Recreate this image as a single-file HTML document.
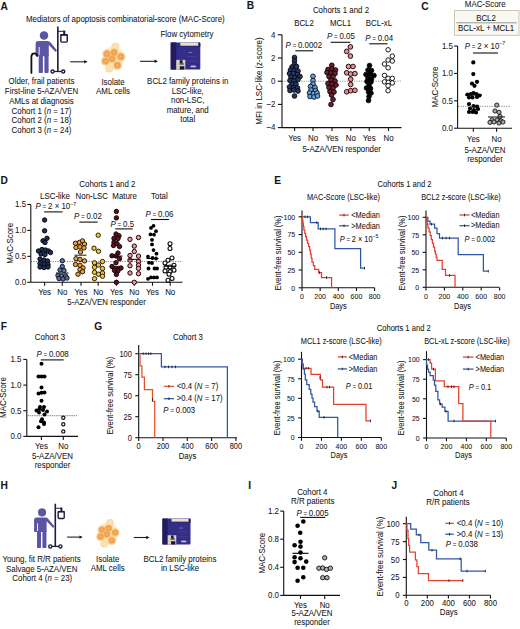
<!DOCTYPE html>
<html><head><meta charset="utf-8"><style>
html,body{margin:0;padding:0;background:#fff;}
svg{display:block;}
text{font-family:"Liberation Sans",sans-serif;fill:#151515;stroke:#151515;stroke-width:0.05px;}
</style></head><body>
<svg width="520" height="629" viewBox="0 0 520 629">
<defs><filter id="bl" x="-20%" y="-20%" width="140%" height="140%"><feGaussianBlur stdDeviation="0.55"/></filter><filter id="bl2" x="-10%" y="-10%" width="120%" height="120%"><feGaussianBlur stdDeviation="0.35"/></filter></defs>
<rect width="520" height="629" fill="#fff"/>
<text transform="translate(0.50 9.50)" font-size="10.2" font-weight="bold" fill="#000">A</text>
<text transform="translate(26.00 21.70) scale(1 1.1)" font-size="7.9">Mediators of apoptosis combinatorial-score (MAC-Score)</text>
<g transform="translate(44.00,35.60) scale(1.0)">
<circle cx="0" cy="0" r="4.25" fill="#5b55a3"/>
<path d="M-8.4,19.8 L-8.4,8.2 Q-8.4,5.4 -5.6,5.4 L3.6,5.4 Q5.6,5.4 6.6,6.9 L12.7,14.3 Q13.1,15.6 11.9,16.1 L11.1,16.0 L4.8,9.4 L4.8,20.6 L-4.4,20.6 L-4.4,11.5 L-5.3,11.5 L-5.3,19.8 Q-5.3,20.5 -6.0,20.5 L-7.7,20.5 Q-8.4,20.5 -8.4,19.8 Z" fill="#5b55a3"/>
<path d="M-5.3,19.5 L-1.1,19.5 L-1.1,36.6 Q-1.1,37.4 -1.9,37.4 L-4.5,37.4 Q-5.3,37.4 -5.3,36.6 Z" fill="#5b55a3"/>
<path d="M0.4,19.5 L4.6,19.5 L4.6,36.6 Q4.6,37.4 3.8,37.4 L1.2,37.4 Q0.4,37.4 0.4,36.6 Z" fill="#5b55a3"/>
<path d="M-12.6,37.3 L-12.6,21.2 Q-12.6,17.7 -9.6,17.7 Q-7.2,17.7 -6.9,20.4" fill="none" stroke="#111" stroke-width="1.8" stroke-linecap="round"/>
</g>
<line x1="57.85" y1="26.50" x2="57.85" y2="71.50" stroke="#1d1b3d" stroke-width="1.6"/>
<g transform="translate(57.85,26.50) scale(1.0)">
<path d="M0,4.8 H6.4" fill="none" stroke="#1d1b3d" stroke-width="1.0"/>
<rect x="5.35" y="4.1" width="2.1" height="3.6" fill="#1d1b3d"/>
<rect x="3.0" y="8.3" width="6.4" height="7.3" rx="1.0" fill="#fff" stroke="#1d1b3d" stroke-width="1.45"/>
<rect x="2.6" y="7.6" width="7.2" height="1.6" fill="#1d1b3d"/>
</g>
<line x1="52.55" y1="71.50" x2="63.25" y2="71.50" stroke="#1d1b3d" stroke-width="1.3"/>
<circle cx="52.55" cy="71.50" r="1.55" fill="#fff" stroke="#1d1b3d" stroke-width="1.35"/>
<circle cx="63.25" cy="71.50" r="1.55" fill="#fff" stroke="#1d1b3d" stroke-width="1.35"/>
<line x1="70.20" y1="61.80" x2="85.00" y2="61.80" stroke="#222" stroke-width="1.1"/>
<path d="M87.50,61.80 L84.30,60.10 L84.30,63.50 Z" fill="#111"/>
<g transform="translate(113.00,58.00) scale(1.0)" filter="url(#bl)">
<ellipse cx="0.5" cy="0" rx="10.5" ry="12" fill="#fdeccb"/>
<circle cx="2.4" cy="-11.4" r="3.7" fill="#fce2b0" stroke="#f9d69c" stroke-width="0.8"/>
<circle cx="-3.7" cy="10.5" r="3.7" fill="#fce2b0" stroke="#f9d69c" stroke-width="0.8"/>
<circle cx="-6.0" cy="-4.1" r="4.7" fill="#fad49a"/>
<circle cx="1.0" cy="-5.6" r="4.7" fill="#fad49a"/>
<circle cx="7.8" cy="-1.2" r="4.7" fill="#fad49a"/>
<circle cx="-0.9" cy="0.7" r="4.7" fill="#fad49a"/>
<circle cx="-7.4" cy="3.1" r="4.7" fill="#fad49a"/>
<circle cx="4.4" cy="7.2" r="4.7" fill="#fad49a"/>
<circle cx="-6.0" cy="-4.1" r="3.5" fill="#f4ad5c"/>
<circle cx="-6.0" cy="-4.1" r="2.1" fill="#f3b266" stroke="#ea9540" stroke-width="0.8"/>
<circle cx="1.0" cy="-5.6" r="3.5" fill="#f4ad5c"/>
<circle cx="1.0" cy="-5.6" r="2.1" fill="#f3b266" stroke="#ea9540" stroke-width="0.8"/>
<circle cx="7.8" cy="-1.2" r="3.5" fill="#f4ad5c"/>
<circle cx="7.8" cy="-1.2" r="2.1" fill="#f3b266" stroke="#ea9540" stroke-width="0.8"/>
<circle cx="-0.9" cy="0.7" r="3.5" fill="#f4ad5c"/>
<circle cx="-0.9" cy="0.7" r="2.1" fill="#f3b266" stroke="#ea9540" stroke-width="0.8"/>
<circle cx="-7.4" cy="3.1" r="3.5" fill="#f4ad5c"/>
<circle cx="-7.4" cy="3.1" r="2.1" fill="#f3b266" stroke="#ea9540" stroke-width="0.8"/>
<circle cx="4.4" cy="7.2" r="3.5" fill="#f4ad5c"/>
<circle cx="4.4" cy="7.2" r="2.1" fill="#f3b266" stroke="#ea9540" stroke-width="0.8"/>
</g>
<line x1="140.00" y1="61.30" x2="155.30" y2="61.30" stroke="#222" stroke-width="1.1"/>
<path d="M157.80,61.30 L154.60,59.60 L154.60,63.00 Z" fill="#111"/>
<text transform="translate(187.00 37.00) scale(1 1.1)" font-size="7.9" text-anchor="middle">Flow cytometry</text>
<g transform="translate(170.70,42.40) scale(0.9867,0.9714)" filter="url(#bl2)">
<rect x="0" y="0" width="30" height="28" rx="1.2" fill="#342d88"/>
<rect x="0" y="0" width="5.6" height="28" fill="#211b5c"/>
<rect x="9.8" y="0.3" width="18.4" height="3.2" fill="#e6e2c2"/>
<path d="M28.2,0 H29 Q30,0 30,1.5 V4 H28.2 Z" fill="#1e1a50"/>
<rect x="5.6" y="3.6" width="24.4" height="0.8" fill="#2c2670"/>
<rect x="5.6" y="18" width="9.2" height="10" fill="#d6d2bf"/>
<rect x="9.2" y="18.3" width="2.8" height="3.6" fill="#1c1838"/>
<rect x="8.8" y="21.4" width="4.5" height="1.6" fill="#5a5670"/>
<rect x="9.2" y="24.5" width="4.6" height="3.5" fill="#1c1838"/>
<ellipse cx="22.8" cy="24.7" rx="3.1" ry="1.0" fill="#c9c6dc"/>
<rect x="18" y="9.8" width="4" height="1" fill="#8f8ac8" opacity="0.8"/>
<rect x="16" y="14" width="10" height="0.6" fill="#5a54aa" opacity="0.7"/>
<rect x="16" y="19" width="10" height="0.6" fill="#5a54aa" opacity="0.7"/>
</g>
<text transform="translate(41.50 84.40) scale(1 1.1)" font-size="7.9" text-anchor="middle">Older, frail patients</text>
<text transform="translate(41.50 94.10) scale(1 1.1)" font-size="7.9" text-anchor="middle">First-line 5-AZA/VEN</text>
<text transform="translate(41.50 103.80) scale(1 1.1)" font-size="7.9" text-anchor="middle">AMLs at diagnosis</text>
<text transform="translate(41.50 113.50) scale(1 1.1)" font-size="7.9" text-anchor="middle">Cohort 1 (<tspan font-style="italic">n</tspan> = 17)</text>
<text transform="translate(41.50 123.20) scale(1 1.1)" font-size="7.9" text-anchor="middle">Cohort 2 (<tspan font-style="italic">n</tspan> = 18)</text>
<text transform="translate(41.50 132.90) scale(1 1.1)" font-size="7.9" text-anchor="middle">Cohort 3 (<tspan font-style="italic">n</tspan> = 24)</text>
<text transform="translate(113.00 84.50) scale(1 1.1)" font-size="7.9" text-anchor="middle">Isolate</text>
<text transform="translate(113.00 93.80) scale(1 1.1)" font-size="7.9" text-anchor="middle">AML cells</text>
<text transform="translate(187.70 84.20) scale(1 1.1)" font-size="7.9" text-anchor="middle">BCL2 family proteins in</text>
<text transform="translate(187.70 93.70) scale(1 1.1)" font-size="7.9" text-anchor="middle">LSC-like,</text>
<text transform="translate(187.70 103.20) scale(1 1.1)" font-size="7.9" text-anchor="middle">non-LSC,</text>
<text transform="translate(187.70 112.70) scale(1 1.1)" font-size="7.9" text-anchor="middle">mature, and</text>
<text transform="translate(187.70 122.20) scale(1 1.1)" font-size="7.9" text-anchor="middle">total</text>
<text transform="translate(246.80 9.40)" font-size="10.2" font-weight="bold" fill="#000">B</text>
<text transform="translate(341.00 12.50) scale(1 1.1)" font-size="7.9" text-anchor="middle">Cohorts 1 and 2</text>
<text transform="translate(304.00 26.00) scale(1 1.1)" font-size="7.9" text-anchor="middle">BCL2</text>
<text transform="translate(340.50 26.00) scale(1 1.1)" font-size="7.9" text-anchor="middle">MCL1</text>
<text transform="translate(379.00 26.00) scale(1 1.1)" font-size="7.9" text-anchor="middle">BCL-xL</text>
<line x1="282.00" y1="81.20" x2="401.00" y2="81.20" stroke="#888" stroke-width="0.9" stroke-dasharray="1.2,1.2"/>
<line x1="282.00" y1="34.80" x2="282.00" y2="127.60" stroke="#111" stroke-width="1.1"/>
<line x1="277.80" y1="34.80" x2="282.00" y2="34.80" stroke="#111" stroke-width="1.1"/>
<text transform="translate(275.30 37.64) scale(1 1.1)" font-size="7.9" text-anchor="end">4</text>
<line x1="277.80" y1="58.00" x2="282.00" y2="58.00" stroke="#111" stroke-width="1.1"/>
<text transform="translate(275.30 60.84) scale(1 1.1)" font-size="7.9" text-anchor="end">2</text>
<line x1="277.80" y1="81.20" x2="282.00" y2="81.20" stroke="#111" stroke-width="1.1"/>
<text transform="translate(275.30 84.04) scale(1 1.1)" font-size="7.9" text-anchor="end">0</text>
<line x1="277.80" y1="104.40" x2="282.00" y2="104.40" stroke="#111" stroke-width="1.1"/>
<text transform="translate(275.30 107.24) scale(1 1.1)" font-size="7.9" text-anchor="end">&#8722;2</text>
<line x1="277.80" y1="127.60" x2="282.00" y2="127.60" stroke="#111" stroke-width="1.1"/>
<text transform="translate(275.30 130.44) scale(1 1.1)" font-size="7.9" text-anchor="end">&#8722;4</text>
<line x1="282.00" y1="127.60" x2="401.50" y2="127.60" stroke="#111" stroke-width="1.1"/>
<line x1="294.60" y1="127.60" x2="294.60" y2="131.10" stroke="#111" stroke-width="1.1"/>
<text transform="translate(294.60 140.80) scale(1 1.1)" font-size="7.9" text-anchor="middle">Yes</text>
<line x1="313.00" y1="127.60" x2="313.00" y2="131.10" stroke="#111" stroke-width="1.1"/>
<text transform="translate(313.00 140.80) scale(1 1.1)" font-size="7.9" text-anchor="middle">No</text>
<line x1="332.00" y1="127.60" x2="332.00" y2="131.10" stroke="#111" stroke-width="1.1"/>
<text transform="translate(332.00 140.80) scale(1 1.1)" font-size="7.9" text-anchor="middle">Yes</text>
<line x1="350.80" y1="127.60" x2="350.80" y2="131.10" stroke="#111" stroke-width="1.1"/>
<text transform="translate(350.80 140.80) scale(1 1.1)" font-size="7.9" text-anchor="middle">No</text>
<line x1="369.20" y1="127.60" x2="369.20" y2="131.10" stroke="#111" stroke-width="1.1"/>
<text transform="translate(369.20 140.80) scale(1 1.1)" font-size="7.9" text-anchor="middle">Yes</text>
<line x1="388.50" y1="127.60" x2="388.50" y2="131.10" stroke="#111" stroke-width="1.1"/>
<text transform="translate(388.50 140.80) scale(1 1.1)" font-size="7.9" text-anchor="middle">No</text>
<text transform="translate(341.70 151.60) scale(1 1.1)" font-size="7.9" text-anchor="middle">5-AZA/VEN responder</text>
<text transform="translate(262.20 81.00) rotate(-90) scale(1 1.1)" font-size="7.9" text-anchor="middle">MFI in LSC-like (z-score)</text>
<text transform="translate(285.50 48.00) scale(1 1.1)" font-size="7.9"><tspan font-style="italic">P</tspan><tspan font-size="6.3"> = </tspan>0.0002</text>
<line x1="295.30" y1="50.80" x2="313.10" y2="50.80" stroke="#111" stroke-width="1.1"/>
<text transform="translate(327.00 39.40) scale(1 1.1)" font-size="7.9"><tspan font-style="italic">P</tspan><tspan font-size="6.3"> = </tspan>0.05</text>
<line x1="330.70" y1="42.30" x2="350.30" y2="42.30" stroke="#111" stroke-width="1.1"/>
<text transform="translate(365.30 41.30) scale(1 1.1)" font-size="7.9"><tspan font-style="italic">P</tspan><tspan font-size="6.3"> = </tspan>0.04</text>
<line x1="369.30" y1="43.80" x2="387.50" y2="43.80" stroke="#111" stroke-width="1.1"/>
<circle cx="294.50" cy="57.50" r="2.35" fill="#28375f" stroke="#05070f" stroke-width="0.9"/>
<circle cx="294.50" cy="61.00" r="2.35" fill="#28375f" stroke="#05070f" stroke-width="0.9"/>
<circle cx="294.50" cy="64.50" r="2.35" fill="#28375f" stroke="#05070f" stroke-width="0.9"/>
<circle cx="292.00" cy="67.00" r="2.35" fill="#28375f" stroke="#05070f" stroke-width="0.9"/>
<circle cx="296.50" cy="66.50" r="2.35" fill="#28375f" stroke="#05070f" stroke-width="0.9"/>
<circle cx="290.50" cy="70.00" r="2.35" fill="#28375f" stroke="#05070f" stroke-width="0.9"/>
<circle cx="294.00" cy="70.50" r="2.35" fill="#28375f" stroke="#05070f" stroke-width="0.9"/>
<circle cx="298.00" cy="71.00" r="2.35" fill="#28375f" stroke="#05070f" stroke-width="0.9"/>
<circle cx="289.50" cy="73.50" r="2.35" fill="#28375f" stroke="#05070f" stroke-width="0.9"/>
<circle cx="293.50" cy="73.50" r="2.35" fill="#28375f" stroke="#05070f" stroke-width="0.9"/>
<circle cx="297.50" cy="74.50" r="2.35" fill="#28375f" stroke="#05070f" stroke-width="0.9"/>
<circle cx="300.00" cy="76.50" r="2.35" fill="#28375f" stroke="#05070f" stroke-width="0.9"/>
<circle cx="291.00" cy="77.00" r="2.35" fill="#28375f" stroke="#05070f" stroke-width="0.9"/>
<circle cx="295.00" cy="77.50" r="2.35" fill="#28375f" stroke="#05070f" stroke-width="0.9"/>
<circle cx="298.00" cy="79.50" r="2.35" fill="#28375f" stroke="#05070f" stroke-width="0.9"/>
<circle cx="290.00" cy="80.50" r="2.35" fill="#28375f" stroke="#05070f" stroke-width="0.9"/>
<circle cx="294.00" cy="81.00" r="2.35" fill="#28375f" stroke="#05070f" stroke-width="0.9"/>
<circle cx="292.00" cy="84.00" r="2.35" fill="#28375f" stroke="#05070f" stroke-width="0.9"/>
<circle cx="296.00" cy="84.00" r="2.35" fill="#28375f" stroke="#05070f" stroke-width="0.9"/>
<circle cx="289.50" cy="87.00" r="2.35" fill="#28375f" stroke="#05070f" stroke-width="0.9"/>
<circle cx="293.50" cy="87.50" r="2.35" fill="#28375f" stroke="#05070f" stroke-width="0.9"/>
<circle cx="297.50" cy="88.00" r="2.35" fill="#28375f" stroke="#05070f" stroke-width="0.9"/>
<circle cx="290.00" cy="90.50" r="2.35" fill="#28375f" stroke="#05070f" stroke-width="0.9"/>
<circle cx="294.00" cy="90.00" r="2.35" fill="#28375f" stroke="#05070f" stroke-width="0.9"/>
<circle cx="298.00" cy="91.00" r="2.35" fill="#28375f" stroke="#05070f" stroke-width="0.9"/>
<circle cx="294.50" cy="96.00" r="2.35" fill="#28375f" stroke="#05070f" stroke-width="0.9"/>
<circle cx="313.00" cy="76.30" r="2.35" fill="#6a9ed2" stroke="#0c1a30" stroke-width="0.95"/>
<circle cx="313.00" cy="80.50" r="2.35" fill="#6a9ed2" stroke="#0c1a30" stroke-width="0.95"/>
<circle cx="313.00" cy="84.00" r="2.35" fill="#6a9ed2" stroke="#0c1a30" stroke-width="0.95"/>
<circle cx="310.50" cy="86.50" r="2.35" fill="#6a9ed2" stroke="#0c1a30" stroke-width="0.95"/>
<circle cx="315.00" cy="87.50" r="2.35" fill="#6a9ed2" stroke="#0c1a30" stroke-width="0.95"/>
<circle cx="311.00" cy="90.00" r="2.35" fill="#6a9ed2" stroke="#0c1a30" stroke-width="0.95"/>
<circle cx="315.50" cy="90.50" r="2.35" fill="#6a9ed2" stroke="#0c1a30" stroke-width="0.95"/>
<circle cx="309.50" cy="93.00" r="2.35" fill="#6a9ed2" stroke="#0c1a30" stroke-width="0.95"/>
<circle cx="313.50" cy="93.50" r="2.35" fill="#6a9ed2" stroke="#0c1a30" stroke-width="0.95"/>
<circle cx="317.00" cy="93.00" r="2.35" fill="#6a9ed2" stroke="#0c1a30" stroke-width="0.95"/>
<circle cx="310.00" cy="96.50" r="2.35" fill="#6a9ed2" stroke="#0c1a30" stroke-width="0.95"/>
<circle cx="314.00" cy="97.00" r="2.35" fill="#6a9ed2" stroke="#0c1a30" stroke-width="0.95"/>
<circle cx="317.50" cy="96.00" r="2.35" fill="#6a9ed2" stroke="#0c1a30" stroke-width="0.95"/>
<circle cx="331.80" cy="65.30" r="2.35" fill="#6c1e2c" stroke="#120306" stroke-width="0.95"/>
<circle cx="328.00" cy="69.50" r="2.35" fill="#6c1e2c" stroke="#120306" stroke-width="0.95"/>
<circle cx="332.00" cy="69.00" r="2.35" fill="#6c1e2c" stroke="#120306" stroke-width="0.95"/>
<circle cx="335.50" cy="70.00" r="2.35" fill="#6c1e2c" stroke="#120306" stroke-width="0.95"/>
<circle cx="327.00" cy="72.50" r="2.35" fill="#6c1e2c" stroke="#120306" stroke-width="0.95"/>
<circle cx="331.00" cy="73.00" r="2.35" fill="#6c1e2c" stroke="#120306" stroke-width="0.95"/>
<circle cx="335.00" cy="73.50" r="2.35" fill="#6c1e2c" stroke="#120306" stroke-width="0.95"/>
<circle cx="329.00" cy="76.50" r="2.35" fill="#6c1e2c" stroke="#120306" stroke-width="0.95"/>
<circle cx="333.00" cy="76.50" r="2.35" fill="#6c1e2c" stroke="#120306" stroke-width="0.95"/>
<circle cx="331.00" cy="80.00" r="2.35" fill="#6c1e2c" stroke="#120306" stroke-width="0.95"/>
<circle cx="335.00" cy="81.00" r="2.35" fill="#6c1e2c" stroke="#120306" stroke-width="0.95"/>
<circle cx="328.00" cy="83.50" r="2.35" fill="#6c1e2c" stroke="#120306" stroke-width="0.95"/>
<circle cx="332.00" cy="84.00" r="2.35" fill="#6c1e2c" stroke="#120306" stroke-width="0.95"/>
<circle cx="336.00" cy="85.00" r="2.35" fill="#6c1e2c" stroke="#120306" stroke-width="0.95"/>
<circle cx="329.00" cy="87.50" r="2.35" fill="#6c1e2c" stroke="#120306" stroke-width="0.95"/>
<circle cx="333.00" cy="88.00" r="2.35" fill="#6c1e2c" stroke="#120306" stroke-width="0.95"/>
<circle cx="330.00" cy="91.50" r="2.35" fill="#6c1e2c" stroke="#120306" stroke-width="0.95"/>
<circle cx="334.00" cy="92.00" r="2.35" fill="#6c1e2c" stroke="#120306" stroke-width="0.95"/>
<circle cx="331.50" cy="95.00" r="2.35" fill="#6c1e2c" stroke="#120306" stroke-width="0.95"/>
<circle cx="333.00" cy="99.50" r="2.35" fill="#6c1e2c" stroke="#120306" stroke-width="0.95"/>
<circle cx="331.00" cy="104.50" r="2.35" fill="#6c1e2c" stroke="#120306" stroke-width="0.95"/>
<circle cx="350.40" cy="46.90" r="2.35" fill="#e98b96" stroke="#1c0508" stroke-width="0.95"/>
<circle cx="346.70" cy="51.40" r="2.35" fill="#e98b96" stroke="#1c0508" stroke-width="0.95"/>
<circle cx="350.40" cy="56.10" r="2.35" fill="#e98b96" stroke="#1c0508" stroke-width="0.95"/>
<circle cx="348.50" cy="66.50" r="2.35" fill="#e98b96" stroke="#1c0508" stroke-width="0.95"/>
<circle cx="353.00" cy="66.50" r="2.35" fill="#e98b96" stroke="#1c0508" stroke-width="0.95"/>
<circle cx="346.70" cy="72.80" r="2.35" fill="#e98b96" stroke="#1c0508" stroke-width="0.95"/>
<circle cx="350.70" cy="74.00" r="2.35" fill="#e98b96" stroke="#1c0508" stroke-width="0.95"/>
<circle cx="354.90" cy="73.60" r="2.35" fill="#e98b96" stroke="#1c0508" stroke-width="0.95"/>
<circle cx="350.70" cy="79.20" r="2.35" fill="#e98b96" stroke="#1c0508" stroke-width="0.95"/>
<circle cx="350.70" cy="84.50" r="2.35" fill="#e98b96" stroke="#1c0508" stroke-width="0.95"/>
<circle cx="346.70" cy="91.80" r="2.35" fill="#e98b96" stroke="#1c0508" stroke-width="0.95"/>
<circle cx="350.70" cy="90.70" r="2.35" fill="#e98b96" stroke="#1c0508" stroke-width="0.95"/>
<circle cx="354.90" cy="90.30" r="2.35" fill="#e98b96" stroke="#1c0508" stroke-width="0.95"/>
<circle cx="369.50" cy="65.50" r="2.35" fill="#050505" stroke="#000" stroke-width="0.8"/>
<circle cx="368.00" cy="70.00" r="2.35" fill="#050505" stroke="#000" stroke-width="0.8"/>
<circle cx="371.50" cy="70.50" r="2.35" fill="#050505" stroke="#000" stroke-width="0.8"/>
<circle cx="366.00" cy="74.50" r="2.35" fill="#050505" stroke="#000" stroke-width="0.8"/>
<circle cx="370.00" cy="74.00" r="2.35" fill="#050505" stroke="#000" stroke-width="0.8"/>
<circle cx="374.00" cy="75.50" r="2.35" fill="#050505" stroke="#000" stroke-width="0.8"/>
<circle cx="368.00" cy="78.00" r="2.35" fill="#050505" stroke="#000" stroke-width="0.8"/>
<circle cx="371.50" cy="79.00" r="2.35" fill="#050505" stroke="#000" stroke-width="0.8"/>
<circle cx="367.00" cy="81.50" r="2.35" fill="#050505" stroke="#000" stroke-width="0.8"/>
<circle cx="371.00" cy="82.00" r="2.35" fill="#050505" stroke="#000" stroke-width="0.8"/>
<circle cx="369.00" cy="85.00" r="2.35" fill="#050505" stroke="#000" stroke-width="0.8"/>
<circle cx="366.50" cy="88.00" r="2.35" fill="#050505" stroke="#000" stroke-width="0.8"/>
<circle cx="370.50" cy="88.50" r="2.35" fill="#050505" stroke="#000" stroke-width="0.8"/>
<circle cx="368.50" cy="92.00" r="2.35" fill="#050505" stroke="#000" stroke-width="0.8"/>
<circle cx="371.00" cy="93.00" r="2.35" fill="#050505" stroke="#000" stroke-width="0.8"/>
<circle cx="369.00" cy="96.50" r="2.35" fill="#050505" stroke="#000" stroke-width="0.8"/>
<circle cx="368.50" cy="100.50" r="2.35" fill="#050505" stroke="#000" stroke-width="0.8"/>
<circle cx="388.10" cy="49.80" r="2.25" fill="#fff" stroke="#000" stroke-width="0.9"/>
<circle cx="392.30" cy="56.10" r="2.25" fill="#fff" stroke="#000" stroke-width="0.9"/>
<circle cx="388.10" cy="60.00" r="2.25" fill="#fff" stroke="#000" stroke-width="0.9"/>
<circle cx="392.30" cy="61.00" r="2.25" fill="#fff" stroke="#000" stroke-width="0.9"/>
<circle cx="384.50" cy="64.00" r="2.25" fill="#fff" stroke="#000" stroke-width="0.9"/>
<circle cx="388.10" cy="67.80" r="2.25" fill="#fff" stroke="#000" stroke-width="0.9"/>
<circle cx="384.50" cy="75.40" r="2.25" fill="#fff" stroke="#000" stroke-width="0.9"/>
<circle cx="388.10" cy="78.40" r="2.25" fill="#fff" stroke="#000" stroke-width="0.9"/>
<circle cx="392.30" cy="78.40" r="2.25" fill="#fff" stroke="#000" stroke-width="0.9"/>
<circle cx="384.50" cy="81.80" r="2.25" fill="#fff" stroke="#000" stroke-width="0.9"/>
<circle cx="388.30" cy="82.30" r="2.25" fill="#fff" stroke="#000" stroke-width="0.9"/>
<circle cx="392.30" cy="82.90" r="2.25" fill="#fff" stroke="#000" stroke-width="0.9"/>
<circle cx="388.10" cy="85.70" r="2.25" fill="#fff" stroke="#000" stroke-width="0.9"/>
<circle cx="388.10" cy="90.70" r="2.25" fill="#fff" stroke="#000" stroke-width="0.9"/>
<text transform="translate(421.30 9.90)" font-size="10.2" font-weight="bold" fill="#000">C</text>
<text transform="translate(485.20 7.00) scale(1 1.1)" font-size="7.9" text-anchor="middle">MAC-Score</text>
<rect x="454.5" y="10.5" width="64.5" height="24.8" fill="#f9f8f2" stroke="#cdc7b6" stroke-width="1"/>
<text transform="translate(486.00 20.80) scale(1 1.1)" font-size="7.9" text-anchor="middle">BCL2</text>
<line x1="456.30" y1="22.80" x2="516.70" y2="22.80" stroke="#555" stroke-width="0.6"/>
<text transform="translate(486.00 31.20) scale(1 1.1)" font-size="7.9" text-anchor="middle">BCL-xL + MCL1</text>
<line x1="458.00" y1="106.30" x2="511.00" y2="106.30" stroke="#777" stroke-width="0.9" stroke-dasharray="1.2,1.2"/>
<line x1="457.60" y1="46.07" x2="457.60" y2="128.20" stroke="#111" stroke-width="1.1"/>
<line x1="454.10" y1="46.07" x2="457.60" y2="46.07" stroke="#111" stroke-width="1.1"/>
<text transform="translate(452.90 48.92) scale(1 1.1)" font-size="7.9" text-anchor="end">1.5</text>
<line x1="454.10" y1="73.45" x2="457.60" y2="73.45" stroke="#111" stroke-width="1.1"/>
<text transform="translate(452.90 76.29) scale(1 1.1)" font-size="7.9" text-anchor="end">1.0</text>
<line x1="454.10" y1="100.82" x2="457.60" y2="100.82" stroke="#111" stroke-width="1.1"/>
<text transform="translate(452.90 103.67) scale(1 1.1)" font-size="7.9" text-anchor="end">0.5</text>
<line x1="454.10" y1="128.20" x2="457.60" y2="128.20" stroke="#111" stroke-width="1.1"/>
<text transform="translate(452.90 131.04) scale(1 1.1)" font-size="7.9" text-anchor="end">0.0</text>
<line x1="457.60" y1="128.20" x2="512.00" y2="128.20" stroke="#111" stroke-width="1.1"/>
<line x1="473.30" y1="128.20" x2="473.30" y2="131.70" stroke="#111" stroke-width="1.1"/>
<text transform="translate(473.30 141.80) scale(1 1.1)" font-size="7.9" text-anchor="middle">Yes</text>
<line x1="496.60" y1="128.20" x2="496.60" y2="131.70" stroke="#111" stroke-width="1.1"/>
<text transform="translate(496.60 141.80) scale(1 1.1)" font-size="7.9" text-anchor="middle">No</text>
<text transform="translate(485.00 152.60) scale(1 1.1)" font-size="7.9" text-anchor="middle">5-AZA/VEN</text>
<text transform="translate(485.00 162.30) scale(1 1.1)" font-size="7.9" text-anchor="middle">responder</text>
<text transform="translate(438.20 87.00) rotate(-90) scale(1 1.1)" font-size="7.9" text-anchor="middle">MAC-Score</text>
<text transform="translate(464.70 48.70) scale(1 1.1)" font-size="7.9"><tspan font-style="italic">P</tspan><tspan font-size="6.3"> = </tspan>2 × 10<tspan dy="-3.2" font-size="5.2">&#8722;7</tspan></text>
<line x1="473.00" y1="53.00" x2="498.00" y2="53.00" stroke="#111" stroke-width="1.1"/>
<circle cx="473.30" cy="62.40" r="2.1" fill="#000"/>
<circle cx="473.30" cy="74.10" r="2.1" fill="#000"/>
<circle cx="477.00" cy="81.80" r="2.1" fill="#000"/>
<circle cx="472.00" cy="83.60" r="2.1" fill="#000"/>
<circle cx="474.50" cy="85.80" r="2.1" fill="#000"/>
<circle cx="467.50" cy="94.50" r="2.1" fill="#000"/>
<circle cx="471.00" cy="94.00" r="2.1" fill="#000"/>
<circle cx="473.50" cy="93.00" r="2.1" fill="#000"/>
<circle cx="476.50" cy="94.00" r="2.1" fill="#000"/>
<circle cx="479.50" cy="95.50" r="2.1" fill="#000"/>
<circle cx="469.00" cy="97.50" r="2.1" fill="#000"/>
<circle cx="472.50" cy="97.50" r="2.1" fill="#000"/>
<circle cx="477.00" cy="97.00" r="2.1" fill="#000"/>
<circle cx="469.00" cy="104.00" r="2.1" fill="#000"/>
<circle cx="473.50" cy="106.00" r="2.1" fill="#000"/>
<circle cx="477.00" cy="106.50" r="2.1" fill="#000"/>
<circle cx="470.00" cy="108.50" r="2.1" fill="#000"/>
<circle cx="474.00" cy="110.00" r="2.1" fill="#000"/>
<circle cx="478.00" cy="109.00" r="2.1" fill="#000"/>
<circle cx="469.00" cy="112.00" r="2.1" fill="#000"/>
<circle cx="472.50" cy="112.00" r="2.1" fill="#000"/>
<circle cx="476.00" cy="112.50" r="2.1" fill="#000"/>
<line x1="465.00" y1="95.00" x2="482.00" y2="95.00" stroke="#000" stroke-width="1.1"/>
<circle cx="496.80" cy="105.10" r="2.1" fill="#a9a9a9" stroke="#111" stroke-width="0.9"/>
<circle cx="495.00" cy="111.00" r="2.1" fill="#a9a9a9" stroke="#111" stroke-width="0.9"/>
<circle cx="499.00" cy="112.30" r="2.1" fill="#a9a9a9" stroke="#111" stroke-width="0.9"/>
<circle cx="500.00" cy="116.50" r="2.1" fill="#a9a9a9" stroke="#111" stroke-width="0.9"/>
<circle cx="492.00" cy="120.00" r="2.1" fill="#a9a9a9" stroke="#111" stroke-width="0.9"/>
<circle cx="497.00" cy="120.00" r="2.1" fill="#a9a9a9" stroke="#111" stroke-width="0.9"/>
<circle cx="501.00" cy="121.00" r="2.1" fill="#a9a9a9" stroke="#111" stroke-width="0.9"/>
<circle cx="490.00" cy="122.40" r="2.1" fill="#a9a9a9" stroke="#111" stroke-width="0.9"/>
<circle cx="494.00" cy="122.00" r="2.1" fill="#a9a9a9" stroke="#111" stroke-width="0.9"/>
<circle cx="499.00" cy="123.00" r="2.1" fill="#a9a9a9" stroke="#111" stroke-width="0.9"/>
<circle cx="503.00" cy="122.00" r="2.1" fill="#a9a9a9" stroke="#111" stroke-width="0.9"/>
<line x1="488.00" y1="117.00" x2="505.00" y2="117.00" stroke="#222" stroke-width="1.1"/>
<text transform="translate(0.50 183.60)" font-size="10.2" font-weight="bold" fill="#000">D</text>
<text transform="translate(107.40 187.00) scale(1 1.1)" font-size="7.9" text-anchor="middle">Cohorts 1 and 2</text>
<text transform="translate(55.00 199.20) scale(1 1.1)" font-size="7.9" text-anchor="middle">LSC-like</text>
<text transform="translate(91.80 199.20) scale(1 1.1)" font-size="7.9" text-anchor="middle">Non-LSC</text>
<text transform="translate(124.60 199.20) scale(1 1.1)" font-size="7.9" text-anchor="middle">Mature</text>
<text transform="translate(159.40 199.20) scale(1 1.1)" font-size="7.9" text-anchor="middle">Total</text>
<line x1="31.00" y1="261.54" x2="182.50" y2="261.54" stroke="#777" stroke-width="0.9" stroke-dasharray="1.2,1.2"/>
<line x1="30.80" y1="204.45" x2="30.80" y2="282.30" stroke="#111" stroke-width="1.1"/>
<line x1="27.30" y1="204.45" x2="30.80" y2="204.45" stroke="#111" stroke-width="1.1"/>
<text transform="translate(26.10 207.29) scale(1 1.1)" font-size="7.9" text-anchor="end">1.5</text>
<line x1="27.30" y1="230.40" x2="30.80" y2="230.40" stroke="#111" stroke-width="1.1"/>
<text transform="translate(26.10 233.24) scale(1 1.1)" font-size="7.9" text-anchor="end">1.0</text>
<line x1="27.30" y1="256.35" x2="30.80" y2="256.35" stroke="#111" stroke-width="1.1"/>
<text transform="translate(26.10 259.19) scale(1 1.1)" font-size="7.9" text-anchor="end">0.5</text>
<line x1="27.30" y1="282.30" x2="30.80" y2="282.30" stroke="#111" stroke-width="1.1"/>
<text transform="translate(26.10 285.14) scale(1 1.1)" font-size="7.9" text-anchor="end">0.0</text>
<line x1="30.80" y1="282.30" x2="182.50" y2="282.30" stroke="#111" stroke-width="1.1"/>
<line x1="44.60" y1="282.30" x2="44.60" y2="285.80" stroke="#111" stroke-width="1.1"/>
<text transform="translate(44.60 295.40) scale(1 1.1)" font-size="7.9" text-anchor="middle">Yes</text>
<line x1="62.30" y1="282.30" x2="62.30" y2="285.80" stroke="#111" stroke-width="1.1"/>
<text transform="translate(62.30 295.40) scale(1 1.1)" font-size="7.9" text-anchor="middle">No</text>
<line x1="81.00" y1="282.30" x2="81.00" y2="285.80" stroke="#111" stroke-width="1.1"/>
<text transform="translate(81.00 295.40) scale(1 1.1)" font-size="7.9" text-anchor="middle">Yes</text>
<line x1="98.20" y1="282.30" x2="98.20" y2="285.80" stroke="#111" stroke-width="1.1"/>
<text transform="translate(98.20 295.40) scale(1 1.1)" font-size="7.9" text-anchor="middle">No</text>
<line x1="116.40" y1="282.30" x2="116.40" y2="285.80" stroke="#111" stroke-width="1.1"/>
<text transform="translate(116.40 295.40) scale(1 1.1)" font-size="7.9" text-anchor="middle">Yes</text>
<line x1="134.30" y1="282.30" x2="134.30" y2="285.80" stroke="#111" stroke-width="1.1"/>
<text transform="translate(134.30 295.40) scale(1 1.1)" font-size="7.9" text-anchor="middle">No</text>
<line x1="152.50" y1="282.30" x2="152.50" y2="285.80" stroke="#111" stroke-width="1.1"/>
<text transform="translate(152.50 295.40) scale(1 1.1)" font-size="7.9" text-anchor="middle">Yes</text>
<line x1="170.20" y1="282.30" x2="170.20" y2="285.80" stroke="#111" stroke-width="1.1"/>
<text transform="translate(170.20 295.40) scale(1 1.1)" font-size="7.9" text-anchor="middle">No</text>
<text transform="translate(106.50 305.00) scale(1 1.1)" font-size="7.9" text-anchor="middle">5-AZA/VEN responder</text>
<text transform="translate(13.30 243.30) rotate(-90) scale(1 1.1)" font-size="7.9" text-anchor="middle">MAC-Score</text>
<text transform="translate(35.60 209.20) scale(1 1.1)" font-size="7.9"><tspan font-style="italic">P</tspan><tspan font-size="6.3"> = </tspan>2 × 10<tspan dy="-3.2" font-size="5.2">&#8722;7</tspan></text>
<line x1="44.20" y1="211.90" x2="62.50" y2="211.90" stroke="#111" stroke-width="1.1"/>
<text transform="translate(74.00 219.40) scale(1 1.1)" font-size="7.9"><tspan font-style="italic">P</tspan><tspan font-size="6.3"> = </tspan>0.02</text>
<line x1="79.40" y1="222.10" x2="97.70" y2="222.10" stroke="#111" stroke-width="1.1"/>
<text transform="translate(110.60 226.70) scale(1 1.1)" font-size="7.9"><tspan font-style="italic">P</tspan><tspan font-size="6.3"> = </tspan>0.5</text>
<line x1="115.20" y1="228.90" x2="132.70" y2="228.90" stroke="#111" stroke-width="1.1"/>
<text transform="translate(145.60 217.30) scale(1 1.1)" font-size="7.9"><tspan font-style="italic">P</tspan><tspan font-size="6.3"> = </tspan>0.06</text>
<line x1="151.00" y1="219.50" x2="169.00" y2="219.50" stroke="#111" stroke-width="1.1"/>
<circle cx="44.60" cy="220.00" r="2.2" fill="#23315a" stroke="#03050c" stroke-width="0.95"/>
<circle cx="44.60" cy="230.80" r="2.2" fill="#23315a" stroke="#03050c" stroke-width="0.95"/>
<circle cx="47.00" cy="238.30" r="2.2" fill="#23315a" stroke="#03050c" stroke-width="0.95"/>
<circle cx="43.00" cy="240.80" r="2.2" fill="#23315a" stroke="#03050c" stroke-width="0.95"/>
<circle cx="45.00" cy="242.50" r="2.2" fill="#23315a" stroke="#03050c" stroke-width="0.95"/>
<circle cx="38.50" cy="251.00" r="2.2" fill="#23315a" stroke="#03050c" stroke-width="0.95"/>
<circle cx="42.00" cy="249.50" r="2.2" fill="#23315a" stroke="#03050c" stroke-width="0.95"/>
<circle cx="45.50" cy="250.00" r="2.2" fill="#23315a" stroke="#03050c" stroke-width="0.95"/>
<circle cx="48.50" cy="251.00" r="2.2" fill="#23315a" stroke="#03050c" stroke-width="0.95"/>
<circle cx="50.50" cy="252.50" r="2.2" fill="#23315a" stroke="#03050c" stroke-width="0.95"/>
<circle cx="41.00" cy="254.00" r="2.2" fill="#23315a" stroke="#03050c" stroke-width="0.95"/>
<circle cx="45.00" cy="254.50" r="2.2" fill="#23315a" stroke="#03050c" stroke-width="0.95"/>
<circle cx="40.00" cy="259.00" r="2.2" fill="#23315a" stroke="#03050c" stroke-width="0.95"/>
<circle cx="44.00" cy="260.00" r="2.2" fill="#23315a" stroke="#03050c" stroke-width="0.95"/>
<circle cx="47.50" cy="261.00" r="2.2" fill="#23315a" stroke="#03050c" stroke-width="0.95"/>
<circle cx="40.00" cy="263.50" r="2.2" fill="#23315a" stroke="#03050c" stroke-width="0.95"/>
<circle cx="44.00" cy="264.00" r="2.2" fill="#23315a" stroke="#03050c" stroke-width="0.95"/>
<circle cx="48.00" cy="264.50" r="2.2" fill="#23315a" stroke="#03050c" stroke-width="0.95"/>
<circle cx="40.00" cy="267.00" r="2.2" fill="#23315a" stroke="#03050c" stroke-width="0.95"/>
<circle cx="44.00" cy="267.50" r="2.2" fill="#23315a" stroke="#03050c" stroke-width="0.95"/>
<circle cx="48.00" cy="267.00" r="2.2" fill="#23315a" stroke="#03050c" stroke-width="0.95"/>
<circle cx="62.30" cy="260.80" r="2.2" fill="#5d6f9a" stroke="#0a1020" stroke-width="0.95"/>
<circle cx="62.30" cy="266.50" r="2.2" fill="#5d6f9a" stroke="#0a1020" stroke-width="0.95"/>
<circle cx="60.00" cy="270.00" r="2.2" fill="#5d6f9a" stroke="#0a1020" stroke-width="0.95"/>
<circle cx="64.00" cy="270.50" r="2.2" fill="#5d6f9a" stroke="#0a1020" stroke-width="0.95"/>
<circle cx="58.00" cy="275.50" r="2.2" fill="#5d6f9a" stroke="#0a1020" stroke-width="0.95"/>
<circle cx="61.50" cy="276.00" r="2.2" fill="#5d6f9a" stroke="#0a1020" stroke-width="0.95"/>
<circle cx="65.50" cy="276.00" r="2.2" fill="#5d6f9a" stroke="#0a1020" stroke-width="0.95"/>
<circle cx="59.00" cy="278.50" r="2.2" fill="#5d6f9a" stroke="#0a1020" stroke-width="0.95"/>
<circle cx="63.00" cy="279.00" r="2.2" fill="#5d6f9a" stroke="#0a1020" stroke-width="0.95"/>
<circle cx="67.00" cy="278.00" r="2.2" fill="#5d6f9a" stroke="#0a1020" stroke-width="0.95"/>
<line x1="56.00" y1="273.00" x2="68.50" y2="273.00" stroke="#1a2040" stroke-width="1.1"/>
<circle cx="75.50" cy="243.30" r="2.2" fill="#e5a23e" stroke="#241403" stroke-width="0.95"/>
<circle cx="79.50" cy="242.40" r="2.2" fill="#e5a23e" stroke="#241403" stroke-width="0.95"/>
<circle cx="82.50" cy="240.90" r="2.2" fill="#e5a23e" stroke="#241403" stroke-width="0.95"/>
<circle cx="84.50" cy="244.10" r="2.2" fill="#e5a23e" stroke="#241403" stroke-width="0.95"/>
<circle cx="76.00" cy="247.50" r="2.2" fill="#e5a23e" stroke="#241403" stroke-width="0.95"/>
<circle cx="80.00" cy="246.90" r="2.2" fill="#e5a23e" stroke="#241403" stroke-width="0.95"/>
<circle cx="84.00" cy="247.90" r="2.2" fill="#e5a23e" stroke="#241403" stroke-width="0.95"/>
<circle cx="80.50" cy="252.00" r="2.2" fill="#e5a23e" stroke="#241403" stroke-width="0.95"/>
<circle cx="76.00" cy="258.70" r="2.2" fill="#e5a23e" stroke="#241403" stroke-width="0.95"/>
<circle cx="80.00" cy="259.40" r="2.2" fill="#e5a23e" stroke="#241403" stroke-width="0.95"/>
<circle cx="84.50" cy="260.90" r="2.2" fill="#e5a23e" stroke="#241403" stroke-width="0.95"/>
<circle cx="75.50" cy="264.50" r="2.2" fill="#e5a23e" stroke="#241403" stroke-width="0.95"/>
<circle cx="80.00" cy="265.30" r="2.2" fill="#e5a23e" stroke="#241403" stroke-width="0.95"/>
<circle cx="83.00" cy="267.90" r="2.2" fill="#e5a23e" stroke="#241403" stroke-width="0.95"/>
<circle cx="80.00" cy="269.50" r="2.2" fill="#e5a23e" stroke="#241403" stroke-width="0.95"/>
<circle cx="82.50" cy="271.70" r="2.2" fill="#e5a23e" stroke="#241403" stroke-width="0.95"/>
<circle cx="78.00" cy="274.20" r="2.2" fill="#e5a23e" stroke="#241403" stroke-width="0.95"/>
<line x1="74.50" y1="255.20" x2="86.50" y2="255.20" stroke="#3a2a20" stroke-width="1.1"/>
<circle cx="98.20" cy="235.20" r="2.2" fill="#f2c53a" stroke="#241a03" stroke-width="0.95"/>
<circle cx="94.00" cy="248.20" r="2.2" fill="#f2c53a" stroke="#241a03" stroke-width="0.95"/>
<circle cx="98.50" cy="251.30" r="2.2" fill="#f2c53a" stroke="#241a03" stroke-width="0.95"/>
<circle cx="102.50" cy="261.50" r="2.2" fill="#f2c53a" stroke="#241a03" stroke-width="0.95"/>
<circle cx="94.50" cy="262.80" r="2.2" fill="#f2c53a" stroke="#241a03" stroke-width="0.95"/>
<circle cx="98.50" cy="265.00" r="2.2" fill="#f2c53a" stroke="#241a03" stroke-width="0.95"/>
<circle cx="94.50" cy="267.30" r="2.2" fill="#f2c53a" stroke="#241a03" stroke-width="0.95"/>
<circle cx="102.50" cy="268.50" r="2.2" fill="#f2c53a" stroke="#241a03" stroke-width="0.95"/>
<circle cx="94.50" cy="272.30" r="2.2" fill="#f2c53a" stroke="#241a03" stroke-width="0.95"/>
<circle cx="98.50" cy="274.20" r="2.2" fill="#f2c53a" stroke="#241a03" stroke-width="0.95"/>
<circle cx="102.50" cy="273.00" r="2.2" fill="#f2c53a" stroke="#241a03" stroke-width="0.95"/>
<circle cx="102.50" cy="276.20" r="2.2" fill="#f2c53a" stroke="#241a03" stroke-width="0.95"/>
<circle cx="94.50" cy="278.70" r="2.2" fill="#f2c53a" stroke="#241a03" stroke-width="0.95"/>
<circle cx="116.40" cy="211.40" r="2.2" fill="#5c1322" stroke="#120204" stroke-width="0.95"/>
<circle cx="116.40" cy="217.90" r="2.2" fill="#5c1322" stroke="#120204" stroke-width="0.95"/>
<circle cx="116.00" cy="234.00" r="2.2" fill="#5c1322" stroke="#120204" stroke-width="0.95"/>
<circle cx="119.00" cy="235.80" r="2.2" fill="#5c1322" stroke="#120204" stroke-width="0.95"/>
<circle cx="114.00" cy="238.30" r="2.2" fill="#5c1322" stroke="#120204" stroke-width="0.95"/>
<circle cx="118.00" cy="238.50" r="2.2" fill="#5c1322" stroke="#120204" stroke-width="0.95"/>
<circle cx="114.00" cy="242.20" r="2.2" fill="#5c1322" stroke="#120204" stroke-width="0.95"/>
<circle cx="117.00" cy="243.60" r="2.2" fill="#5c1322" stroke="#120204" stroke-width="0.95"/>
<circle cx="119.50" cy="246.50" r="2.2" fill="#5c1322" stroke="#120204" stroke-width="0.95"/>
<circle cx="113.50" cy="245.50" r="2.2" fill="#5c1322" stroke="#120204" stroke-width="0.95"/>
<circle cx="118.00" cy="253.00" r="2.2" fill="#5c1322" stroke="#120204" stroke-width="0.95"/>
<circle cx="112.00" cy="255.80" r="2.2" fill="#5c1322" stroke="#120204" stroke-width="0.95"/>
<circle cx="116.00" cy="256.00" r="2.2" fill="#5c1322" stroke="#120204" stroke-width="0.95"/>
<circle cx="119.50" cy="258.70" r="2.2" fill="#5c1322" stroke="#120204" stroke-width="0.95"/>
<circle cx="116.00" cy="262.70" r="2.2" fill="#5c1322" stroke="#120204" stroke-width="0.95"/>
<circle cx="112.00" cy="266.50" r="2.2" fill="#5c1322" stroke="#120204" stroke-width="0.95"/>
<circle cx="115.00" cy="268.40" r="2.2" fill="#5c1322" stroke="#120204" stroke-width="0.95"/>
<circle cx="118.50" cy="268.40" r="2.2" fill="#5c1322" stroke="#120204" stroke-width="0.95"/>
<circle cx="121.00" cy="268.00" r="2.2" fill="#5c1322" stroke="#120204" stroke-width="0.95"/>
<circle cx="114.50" cy="270.40" r="2.2" fill="#5c1322" stroke="#120204" stroke-width="0.95"/>
<circle cx="118.00" cy="270.80" r="2.2" fill="#5c1322" stroke="#120204" stroke-width="0.95"/>
<circle cx="116.40" cy="274.40" r="2.2" fill="#5c1322" stroke="#120204" stroke-width="0.95"/>
<circle cx="116.40" cy="282.30" r="2.2" fill="#5c1322" stroke="#120204" stroke-width="0.95"/>
<line x1="110.50" y1="256.10" x2="122.50" y2="256.10" stroke="#200408" stroke-width="1.1"/>
<circle cx="130.00" cy="239.30" r="2.2" fill="#e79aa0" stroke="#1e0508" stroke-width="1.0"/>
<circle cx="138.50" cy="237.50" r="2.2" fill="#e79aa0" stroke="#1e0508" stroke-width="1.0"/>
<circle cx="134.30" cy="246.10" r="2.2" fill="#e79aa0" stroke="#1e0508" stroke-width="1.0"/>
<circle cx="134.30" cy="251.50" r="2.2" fill="#e79aa0" stroke="#1e0508" stroke-width="1.0"/>
<circle cx="130.00" cy="255.50" r="2.2" fill="#e79aa0" stroke="#1e0508" stroke-width="1.0"/>
<circle cx="138.50" cy="256.10" r="2.2" fill="#e79aa0" stroke="#1e0508" stroke-width="1.0"/>
<circle cx="130.00" cy="260.10" r="2.2" fill="#e79aa0" stroke="#1e0508" stroke-width="1.0"/>
<circle cx="138.50" cy="261.50" r="2.2" fill="#e79aa0" stroke="#1e0508" stroke-width="1.0"/>
<circle cx="138.50" cy="265.10" r="2.2" fill="#e79aa0" stroke="#1e0508" stroke-width="1.0"/>
<circle cx="130.00" cy="265.80" r="2.2" fill="#e79aa0" stroke="#1e0508" stroke-width="1.0"/>
<circle cx="138.50" cy="268.40" r="2.2" fill="#e79aa0" stroke="#1e0508" stroke-width="1.0"/>
<circle cx="130.00" cy="273.00" r="2.2" fill="#e79aa0" stroke="#1e0508" stroke-width="1.0"/>
<circle cx="138.50" cy="273.70" r="2.2" fill="#e79aa0" stroke="#1e0508" stroke-width="1.0"/>
<circle cx="134.30" cy="282.30" r="2.2" fill="#e79aa0" stroke="#1e0508" stroke-width="1.0"/>
<line x1="128.50" y1="259.40" x2="140.50" y2="259.40" stroke="#3a0c14" stroke-width="1.1"/>
<circle cx="153.50" cy="225.80" r="1.9" fill="#000"/>
<circle cx="151.00" cy="227.90" r="1.9" fill="#000"/>
<circle cx="156.00" cy="231.20" r="1.9" fill="#000"/>
<circle cx="150.50" cy="234.40" r="1.9" fill="#000"/>
<circle cx="154.00" cy="234.70" r="1.9" fill="#000"/>
<circle cx="152.00" cy="239.80" r="1.9" fill="#000"/>
<circle cx="152.00" cy="244.40" r="1.9" fill="#000"/>
<circle cx="153.50" cy="250.10" r="1.9" fill="#000"/>
<circle cx="156.50" cy="253.70" r="1.9" fill="#000"/>
<circle cx="148.00" cy="256.60" r="1.9" fill="#000"/>
<circle cx="152.50" cy="258.00" r="1.9" fill="#000"/>
<circle cx="156.00" cy="258.50" r="1.9" fill="#000"/>
<circle cx="149.00" cy="262.70" r="1.9" fill="#000"/>
<circle cx="152.00" cy="263.00" r="1.9" fill="#000"/>
<circle cx="148.50" cy="268.50" r="1.9" fill="#000"/>
<circle cx="154.50" cy="268.50" r="1.9" fill="#000"/>
<circle cx="157.00" cy="268.50" r="1.9" fill="#000"/>
<circle cx="148.00" cy="278.80" r="1.9" fill="#000"/>
<circle cx="151.00" cy="277.40" r="1.9" fill="#000"/>
<circle cx="154.00" cy="277.40" r="1.9" fill="#000"/>
<circle cx="157.00" cy="277.40" r="1.9" fill="#000"/>
<line x1="146.50" y1="258.50" x2="158.50" y2="258.50" stroke="#000" stroke-width="1.1"/>
<circle cx="170.00" cy="243.70" r="2.0" fill="#fff" stroke="#000" stroke-width="1.05"/>
<circle cx="170.00" cy="248.40" r="2.0" fill="#fff" stroke="#000" stroke-width="1.05"/>
<circle cx="172.00" cy="258.00" r="2.0" fill="#fff" stroke="#000" stroke-width="1.05"/>
<circle cx="168.00" cy="260.20" r="2.0" fill="#fff" stroke="#000" stroke-width="1.05"/>
<circle cx="165.00" cy="263.00" r="2.0" fill="#fff" stroke="#000" stroke-width="1.05"/>
<circle cx="174.00" cy="265.20" r="2.0" fill="#fff" stroke="#000" stroke-width="1.05"/>
<circle cx="170.00" cy="267.00" r="2.0" fill="#fff" stroke="#000" stroke-width="1.05"/>
<circle cx="166.00" cy="267.30" r="2.0" fill="#fff" stroke="#000" stroke-width="1.05"/>
<circle cx="174.00" cy="270.20" r="2.0" fill="#fff" stroke="#000" stroke-width="1.05"/>
<circle cx="165.00" cy="270.90" r="2.0" fill="#fff" stroke="#000" stroke-width="1.05"/>
<circle cx="170.00" cy="271.60" r="2.0" fill="#fff" stroke="#000" stroke-width="1.05"/>
<circle cx="169.00" cy="274.20" r="2.0" fill="#fff" stroke="#000" stroke-width="1.05"/>
<circle cx="172.00" cy="278.50" r="2.0" fill="#fff" stroke="#000" stroke-width="1.05"/>
<circle cx="168.00" cy="280.20" r="2.0" fill="#fff" stroke="#000" stroke-width="1.05"/>
<line x1="164.00" y1="266.20" x2="176.00" y2="266.20" stroke="#000" stroke-width="1.1"/>
<text transform="translate(274.20 183.70)" font-size="10.2" font-weight="bold" fill="#000">E</text>
<text transform="translate(404.60 186.50) scale(1 1.1)" font-size="7.6" text-anchor="middle">Cohorts 1 and 2</text>
<text transform="translate(343.50 200.00) scale(1 1.1)" font-size="7.4" text-anchor="middle">MAC-Score (LSC-like)</text>
<line x1="302.00" y1="210.40" x2="302.00" y2="287.80" stroke="#111" stroke-width="1.1"/>
<line x1="298.60" y1="216.80" x2="302.00" y2="216.80" stroke="#111" stroke-width="1.1"/>
<text transform="translate(295.20 219.57) scale(1 1.1)" font-size="7.0" text-anchor="end">100</text>
<line x1="298.60" y1="234.55" x2="302.00" y2="234.55" stroke="#111" stroke-width="1.1"/>
<text transform="translate(295.20 237.32) scale(1 1.1)" font-size="7.0" text-anchor="end">75</text>
<line x1="298.60" y1="252.30" x2="302.00" y2="252.30" stroke="#111" stroke-width="1.1"/>
<text transform="translate(295.20 255.07) scale(1 1.1)" font-size="7.0" text-anchor="end">50</text>
<line x1="298.60" y1="270.05" x2="302.00" y2="270.05" stroke="#111" stroke-width="1.1"/>
<text transform="translate(295.20 272.82) scale(1 1.1)" font-size="7.0" text-anchor="end">25</text>
<line x1="298.60" y1="287.80" x2="302.00" y2="287.80" stroke="#111" stroke-width="1.1"/>
<text transform="translate(295.20 290.57) scale(1 1.1)" font-size="7.0" text-anchor="end">0</text>
<line x1="302.00" y1="287.80" x2="374.60" y2="287.80" stroke="#111" stroke-width="1.1"/>
<line x1="302.00" y1="287.80" x2="302.00" y2="291.10" stroke="#111" stroke-width="1.1"/>
<text transform="translate(302.00 298.80) scale(1 1.1)" font-size="7.0" text-anchor="middle">0</text>
<line x1="320.15" y1="287.80" x2="320.15" y2="291.10" stroke="#111" stroke-width="1.1"/>
<text transform="translate(320.15 298.80) scale(1 1.1)" font-size="7.0" text-anchor="middle">200</text>
<line x1="338.30" y1="287.80" x2="338.30" y2="291.10" stroke="#111" stroke-width="1.1"/>
<text transform="translate(338.30 298.80) scale(1 1.1)" font-size="7.0" text-anchor="middle">400</text>
<line x1="356.45" y1="287.80" x2="356.45" y2="291.10" stroke="#111" stroke-width="1.1"/>
<text transform="translate(356.45 298.80) scale(1 1.1)" font-size="7.0" text-anchor="middle">600</text>
<line x1="374.60" y1="287.80" x2="374.60" y2="291.10" stroke="#111" stroke-width="1.1"/>
<text transform="translate(374.60 298.80) scale(1 1.1)" font-size="7.0" text-anchor="middle">800</text>
<text transform="translate(338.30 309.20) scale(1 1.1)" font-size="7.4" text-anchor="middle">Days</text>
<text transform="translate(280.80 253.00) rotate(-90) scale(1 1.1)" font-size="7.4" text-anchor="middle">Event-free survival (%)</text>
<path d="M302.00,216.80 H310.40 V222.60 H318.20 V228.90 H334.90 V248.60 H360.60 V268.20 H364.90" fill="none" stroke="#2f56a6" stroke-width="1.25" stroke-linejoin="miter"/>
<line x1="305.00" y1="215.50" x2="305.00" y2="218.10" stroke="#111" stroke-width="0.8"/>
<line x1="307.50" y1="215.50" x2="307.50" y2="218.10" stroke="#111" stroke-width="0.8"/>
<line x1="316.80" y1="221.30" x2="316.80" y2="223.90" stroke="#111" stroke-width="0.8"/>
<line x1="320.50" y1="227.60" x2="320.50" y2="230.20" stroke="#111" stroke-width="0.8"/>
<line x1="323.20" y1="227.60" x2="323.20" y2="230.20" stroke="#111" stroke-width="0.8"/>
<line x1="326.00" y1="227.60" x2="326.00" y2="230.20" stroke="#111" stroke-width="0.8"/>
<line x1="364.50" y1="266.90" x2="364.50" y2="269.50" stroke="#111" stroke-width="0.8"/>
<path d="M302.00,216.80 H302.48 V220.10 H302.95 V223.40 H303.42 V226.70 H303.90 V230.00 H304.77 V233.33 H305.63 V236.67 H306.50 V240.00 H307.57 V243.33 H308.63 V246.67 H309.70 V250.00 H310.47 V254.00 H311.23 V258.00 H312.00 V262.00 H313.35 V265.65 H314.70 V269.30 H318.60 V272.60 H321.50 V277.50 H331.60 V287.80" fill="none" stroke="#e2402c" stroke-width="1.25" stroke-linejoin="miter"/>
<line x1="319.50" y1="271.30" x2="319.50" y2="273.90" stroke="#111" stroke-width="0.8"/>
<line x1="326.50" y1="276.20" x2="326.50" y2="278.80" stroke="#111" stroke-width="0.8"/>
<line x1="339.20" y1="215.10" x2="348.80" y2="215.10" stroke="#e2402c" stroke-width="1.25"/>
<line x1="344.00" y1="213.80" x2="344.00" y2="216.40" stroke="#111" stroke-width="0.8"/>
<text transform="translate(351.30 217.80) scale(1 1.1)" font-size="7.4">&lt;Median</text>
<line x1="339.20" y1="225.80" x2="348.80" y2="225.80" stroke="#2f56a6" stroke-width="1.25"/>
<line x1="344.00" y1="224.50" x2="344.00" y2="227.10" stroke="#111" stroke-width="0.8"/>
<text transform="translate(351.30 228.50) scale(1 1.1)" font-size="7.4">&gt;Median</text>
<text transform="translate(339.70 242.00) scale(1 1.1)" font-size="7.4"><tspan font-style="italic">P</tspan><tspan font-size="6.3"> = </tspan>2 × 10<tspan dy="-3.2" font-size="5.2">&#8722;5</tspan></text>
<text transform="translate(461.00 200.00) scale(1 1.1)" font-size="7.4" text-anchor="middle">BCL2 z-score (LSC-like)</text>
<line x1="426.00" y1="210.40" x2="426.00" y2="287.30" stroke="#111" stroke-width="1.1"/>
<line x1="422.60" y1="217.30" x2="426.00" y2="217.30" stroke="#111" stroke-width="1.1"/>
<text transform="translate(419.20 220.07) scale(1 1.1)" font-size="7.0" text-anchor="end">100</text>
<line x1="422.60" y1="234.80" x2="426.00" y2="234.80" stroke="#111" stroke-width="1.1"/>
<text transform="translate(419.20 237.57) scale(1 1.1)" font-size="7.0" text-anchor="end">75</text>
<line x1="422.60" y1="252.30" x2="426.00" y2="252.30" stroke="#111" stroke-width="1.1"/>
<text transform="translate(419.20 255.07) scale(1 1.1)" font-size="7.0" text-anchor="end">50</text>
<line x1="422.60" y1="269.80" x2="426.00" y2="269.80" stroke="#111" stroke-width="1.1"/>
<text transform="translate(419.20 272.57) scale(1 1.1)" font-size="7.0" text-anchor="end">25</text>
<line x1="422.60" y1="287.30" x2="426.00" y2="287.30" stroke="#111" stroke-width="1.1"/>
<text transform="translate(419.20 290.07) scale(1 1.1)" font-size="7.0" text-anchor="end">0</text>
<line x1="426.00" y1="287.30" x2="499.00" y2="287.30" stroke="#111" stroke-width="1.1"/>
<line x1="426.00" y1="287.30" x2="426.00" y2="290.60" stroke="#111" stroke-width="1.1"/>
<text transform="translate(426.00 298.80) scale(1 1.1)" font-size="7.0" text-anchor="middle">0</text>
<line x1="444.40" y1="287.30" x2="444.40" y2="290.60" stroke="#111" stroke-width="1.1"/>
<text transform="translate(444.40 298.80) scale(1 1.1)" font-size="7.0" text-anchor="middle">200</text>
<line x1="462.80" y1="287.30" x2="462.80" y2="290.60" stroke="#111" stroke-width="1.1"/>
<text transform="translate(462.80 298.80) scale(1 1.1)" font-size="7.0" text-anchor="middle">400</text>
<line x1="481.20" y1="287.30" x2="481.20" y2="290.60" stroke="#111" stroke-width="1.1"/>
<text transform="translate(481.20 298.80) scale(1 1.1)" font-size="7.0" text-anchor="middle">600</text>
<line x1="499.60" y1="287.30" x2="499.60" y2="290.60" stroke="#111" stroke-width="1.1"/>
<text transform="translate(499.60 298.80) scale(1 1.1)" font-size="7.0" text-anchor="middle">800</text>
<text transform="translate(462.50 309.20) scale(1 1.1)" font-size="7.4" text-anchor="middle">Days</text>
<text transform="translate(405.00 253.00) rotate(-90) scale(1 1.1)" font-size="7.4" text-anchor="middle">Event-free survival (%)</text>
<path d="M426.00,217.30 H427.80 V221.20 H430.00 V224.20 H434.60 V228.00 H437.00 V233.50 H439.50 V238.00 H458.20 V254.50 H483.40 V271.20 H488.50" fill="none" stroke="#2f56a6" stroke-width="1.25" stroke-linejoin="miter"/>
<line x1="431.50" y1="222.90" x2="431.50" y2="225.50" stroke="#111" stroke-width="0.8"/>
<line x1="442.50" y1="236.70" x2="442.50" y2="239.30" stroke="#111" stroke-width="0.8"/>
<line x1="446.00" y1="236.70" x2="446.00" y2="239.30" stroke="#111" stroke-width="0.8"/>
<line x1="449.50" y1="236.70" x2="449.50" y2="239.30" stroke="#111" stroke-width="0.8"/>
<line x1="488.30" y1="269.90" x2="488.30" y2="272.50" stroke="#111" stroke-width="0.8"/>
<path d="M426.00,217.30 H426.67 V220.87 H427.33 V224.43 H428.00 V228.00 H429.10 V231.83 H430.20 V235.67 H431.30 V239.50 H432.40 V243.33 H433.50 V247.17 H434.60 V251.00 H435.40 V254.13 H436.20 V257.27 H437.00 V260.40 H442.20 V269.30 H445.50 V275.30 H455.00 V287.30" fill="none" stroke="#e2402c" stroke-width="1.25" stroke-linejoin="miter"/>
<line x1="449.50" y1="274.20" x2="449.50" y2="276.80" stroke="#111" stroke-width="0.8"/>
<line x1="459.50" y1="215.00" x2="469.50" y2="215.00" stroke="#e2402c" stroke-width="1.25"/>
<line x1="464.50" y1="213.70" x2="464.50" y2="216.30" stroke="#111" stroke-width="0.8"/>
<text transform="translate(471.00 217.70) scale(1 1.1)" font-size="7.4">&lt;Median</text>
<line x1="459.50" y1="225.70" x2="469.50" y2="225.70" stroke="#2f56a6" stroke-width="1.25"/>
<line x1="464.50" y1="224.40" x2="464.50" y2="227.00" stroke="#111" stroke-width="0.8"/>
<text transform="translate(471.00 228.40) scale(1 1.1)" font-size="7.4">&gt;Median</text>
<text transform="translate(464.50 242.00) scale(1 1.1)" font-size="7.4"><tspan font-style="italic">P</tspan><tspan font-size="6.3"> = </tspan>0.002</text>
<text transform="translate(0.80 329.60)" font-size="10.2" font-weight="bold" fill="#000">F</text>
<text transform="translate(50.00 340.40) scale(1 1.1)" font-size="7.9" text-anchor="middle">Cohort 3</text>
<line x1="27.50" y1="415.60" x2="77.20" y2="415.60" stroke="#999" stroke-width="1.3" stroke-dasharray="1.4,0.8"/>
<line x1="26.80" y1="359.40" x2="26.80" y2="436.40" stroke="#111" stroke-width="1.1"/>
<line x1="23.30" y1="359.40" x2="26.80" y2="359.40" stroke="#111" stroke-width="1.1"/>
<text transform="translate(21.40 362.25) scale(1 1.1)" font-size="7.9" text-anchor="end">1.5</text>
<line x1="23.30" y1="385.07" x2="26.80" y2="385.07" stroke="#111" stroke-width="1.1"/>
<text transform="translate(21.40 387.91) scale(1 1.1)" font-size="7.9" text-anchor="end">1.0</text>
<line x1="23.30" y1="410.73" x2="26.80" y2="410.73" stroke="#111" stroke-width="1.1"/>
<text transform="translate(21.40 413.58) scale(1 1.1)" font-size="7.9" text-anchor="end">0.5</text>
<line x1="23.30" y1="436.40" x2="26.80" y2="436.40" stroke="#111" stroke-width="1.1"/>
<text transform="translate(21.40 439.24) scale(1 1.1)" font-size="7.9" text-anchor="end">0.0</text>
<line x1="26.80" y1="436.40" x2="78.10" y2="436.40" stroke="#111" stroke-width="1.1"/>
<line x1="41.40" y1="436.40" x2="41.40" y2="439.90" stroke="#111" stroke-width="1.1"/>
<text transform="translate(41.40 449.10) scale(1 1.1)" font-size="7.9" text-anchor="middle">Yes</text>
<line x1="63.30" y1="436.40" x2="63.30" y2="439.90" stroke="#111" stroke-width="1.1"/>
<text transform="translate(63.30 449.10) scale(1 1.1)" font-size="7.9" text-anchor="middle">No</text>
<text transform="translate(52.50 458.60) scale(1 1.1)" font-size="7.9" text-anchor="middle">5-AZA/VEN</text>
<text transform="translate(52.50 468.30) scale(1 1.1)" font-size="7.9" text-anchor="middle">responder</text>
<text transform="translate(6.40 397.50) rotate(-90) scale(1 1.1)" font-size="7.9" text-anchor="middle">MAC-Score</text>
<text transform="translate(36.50 356.60) scale(1 1.1)" font-size="7.9"><tspan font-style="italic">P</tspan><tspan font-size="6.3"> = </tspan>0.008</text>
<line x1="40.80" y1="359.90" x2="63.70" y2="359.90" stroke="#111" stroke-width="1.1"/>
<circle cx="41.50" cy="363.80" r="2.0" fill="#000"/>
<circle cx="38.50" cy="376.60" r="2.0" fill="#000"/>
<circle cx="41.50" cy="376.60" r="2.0" fill="#000"/>
<circle cx="44.50" cy="376.60" r="2.0" fill="#000"/>
<circle cx="41.50" cy="387.40" r="2.0" fill="#000"/>
<circle cx="38.50" cy="393.50" r="2.0" fill="#000"/>
<circle cx="41.50" cy="392.80" r="2.0" fill="#000"/>
<circle cx="44.50" cy="392.60" r="2.0" fill="#000"/>
<circle cx="41.50" cy="400.70" r="2.0" fill="#000"/>
<circle cx="40.00" cy="407.00" r="2.0" fill="#000"/>
<circle cx="44.00" cy="407.00" r="2.0" fill="#000"/>
<circle cx="36.50" cy="410.40" r="2.0" fill="#000"/>
<circle cx="39.50" cy="409.00" r="2.0" fill="#000"/>
<circle cx="43.00" cy="410.10" r="2.0" fill="#000"/>
<circle cx="47.00" cy="411.50" r="2.0" fill="#000"/>
<circle cx="39.00" cy="412.40" r="2.0" fill="#000"/>
<circle cx="44.50" cy="414.50" r="2.0" fill="#000"/>
<circle cx="42.00" cy="419.20" r="2.0" fill="#000"/>
<circle cx="41.00" cy="421.20" r="2.0" fill="#000"/>
<circle cx="44.00" cy="422.60" r="2.0" fill="#000"/>
<circle cx="44.00" cy="423.90" r="2.0" fill="#000"/>
<circle cx="38.50" cy="427.30" r="2.0" fill="#000"/>
<circle cx="63.30" cy="417.80" r="1.6" fill="#fff" stroke="#111" stroke-width="1.15"/>
<circle cx="63.30" cy="424.20" r="1.6" fill="#fff" stroke="#111" stroke-width="1.15"/>
<circle cx="63.30" cy="431.40" r="1.6" fill="#fff" stroke="#111" stroke-width="1.15"/>
<text transform="translate(94.20 330.00)" font-size="10.2" font-weight="bold" fill="#000">G</text>
<text transform="translate(188.00 340.00) scale(1 1.1)" font-size="7.8" text-anchor="middle">Cohort 3</text>
<line x1="138.70" y1="345.00" x2="138.70" y2="437.70" stroke="#111" stroke-width="1.1"/>
<line x1="135.30" y1="353.70" x2="138.70" y2="353.70" stroke="#111" stroke-width="1.1"/>
<text transform="translate(131.90 356.67) scale(1 1.1)" font-size="7.5" text-anchor="end">100</text>
<line x1="135.30" y1="374.70" x2="138.70" y2="374.70" stroke="#111" stroke-width="1.1"/>
<text transform="translate(131.90 377.67) scale(1 1.1)" font-size="7.5" text-anchor="end">75</text>
<line x1="135.30" y1="395.70" x2="138.70" y2="395.70" stroke="#111" stroke-width="1.1"/>
<text transform="translate(131.90 398.67) scale(1 1.1)" font-size="7.5" text-anchor="end">50</text>
<line x1="135.30" y1="416.70" x2="138.70" y2="416.70" stroke="#111" stroke-width="1.1"/>
<text transform="translate(131.90 419.67) scale(1 1.1)" font-size="7.5" text-anchor="end">25</text>
<line x1="135.30" y1="437.70" x2="138.70" y2="437.70" stroke="#111" stroke-width="1.1"/>
<text transform="translate(131.90 440.67) scale(1 1.1)" font-size="7.5" text-anchor="end">0</text>
<line x1="138.70" y1="437.70" x2="237.00" y2="437.70" stroke="#111" stroke-width="1.1"/>
<line x1="138.70" y1="437.70" x2="138.70" y2="441.00" stroke="#111" stroke-width="1.1"/>
<text transform="translate(138.70 449.00) scale(1 1.1)" font-size="7.5" text-anchor="middle">0</text>
<line x1="163.00" y1="437.70" x2="163.00" y2="441.00" stroke="#111" stroke-width="1.1"/>
<text transform="translate(163.00 449.00) scale(1 1.1)" font-size="7.5" text-anchor="middle">200</text>
<line x1="187.30" y1="437.70" x2="187.30" y2="441.00" stroke="#111" stroke-width="1.1"/>
<text transform="translate(187.30 449.00) scale(1 1.1)" font-size="7.5" text-anchor="middle">400</text>
<line x1="211.60" y1="437.70" x2="211.60" y2="441.00" stroke="#111" stroke-width="1.1"/>
<text transform="translate(211.60 449.00) scale(1 1.1)" font-size="7.5" text-anchor="middle">600</text>
<line x1="235.90" y1="437.70" x2="235.90" y2="441.00" stroke="#111" stroke-width="1.1"/>
<text transform="translate(235.90 449.00) scale(1 1.1)" font-size="7.5" text-anchor="middle">800</text>
<text transform="translate(187.50 458.50) scale(1 1.1)" font-size="7.7" text-anchor="middle">Days</text>
<text transform="translate(113.30 395.50) rotate(-90) scale(1 1.1)" font-size="7.7" text-anchor="middle">Event-free survival (%)</text>
<path d="M138.70,353.70 H161.40 V366.90 H227.40 V437.70" fill="none" stroke="#2f56a6" stroke-width="1.25" stroke-linejoin="miter"/>
<line x1="143.20" y1="352.40" x2="143.20" y2="355.00" stroke="#111" stroke-width="0.8"/>
<line x1="146.00" y1="352.40" x2="146.00" y2="355.00" stroke="#111" stroke-width="0.8"/>
<line x1="148.60" y1="352.40" x2="148.60" y2="355.00" stroke="#111" stroke-width="0.8"/>
<line x1="150.80" y1="352.40" x2="150.80" y2="355.00" stroke="#111" stroke-width="0.8"/>
<line x1="165.00" y1="365.60" x2="165.00" y2="368.20" stroke="#111" stroke-width="0.8"/>
<line x1="168.50" y1="365.60" x2="168.50" y2="368.20" stroke="#111" stroke-width="0.8"/>
<line x1="172.00" y1="365.60" x2="172.00" y2="368.20" stroke="#111" stroke-width="0.8"/>
<line x1="175.50" y1="365.60" x2="175.50" y2="368.20" stroke="#111" stroke-width="0.8"/>
<path d="M138.70,353.70 H140.00 V365.80 H141.90 V377.10 H144.40 V389.60 H152.50 V401.40 H154.70 V437.70" fill="none" stroke="#e8502a" stroke-width="1.25" stroke-linejoin="miter"/>
<line x1="152.50" y1="398.20" x2="152.50" y2="400.80" stroke="#111" stroke-width="0.8"/>
<line x1="163.80" y1="386.30" x2="174.00" y2="386.30" stroke="#e8502a" stroke-width="1.25"/>
<line x1="168.90" y1="385.00" x2="168.90" y2="387.60" stroke="#111" stroke-width="0.8"/>
<text transform="translate(176.70 389.00) scale(1 1.1)" font-size="7.8">&lt;0.4 (<tspan font-style="italic">N</tspan> = 7)</text>
<line x1="163.80" y1="398.70" x2="174.00" y2="398.70" stroke="#2f56a6" stroke-width="1.25"/>
<line x1="168.90" y1="397.40" x2="168.90" y2="400.00" stroke="#111" stroke-width="0.8"/>
<text transform="translate(176.70 401.40) scale(1 1.1)" font-size="7.8">&gt;0.4 (<tspan font-style="italic">N</tspan> = 17)</text>
<text transform="translate(163.30 413.20) scale(1 1.1)" font-size="7.8"><tspan font-style="italic">P</tspan><tspan font-size="6.3"> = </tspan>0.003</text>
<text transform="translate(403.70 331.30) scale(1 1.1)" font-size="7.6" text-anchor="middle">Cohorts 1 and 2</text>
<text transform="translate(341.30 344.20) scale(1 1.1)" font-size="7.4" text-anchor="middle">MCL1 z-score (LSC-like)</text>
<line x1="301.50" y1="351.80" x2="301.50" y2="437.50" stroke="#111" stroke-width="1.1"/>
<line x1="298.10" y1="359.20" x2="301.50" y2="359.20" stroke="#111" stroke-width="1.1"/>
<text transform="translate(294.70 361.97) scale(1 1.1)" font-size="7.0" text-anchor="end">100</text>
<line x1="298.10" y1="378.77" x2="301.50" y2="378.77" stroke="#111" stroke-width="1.1"/>
<text transform="translate(294.70 381.55) scale(1 1.1)" font-size="7.0" text-anchor="end">75</text>
<line x1="298.10" y1="398.35" x2="301.50" y2="398.35" stroke="#111" stroke-width="1.1"/>
<text transform="translate(294.70 401.12) scale(1 1.1)" font-size="7.0" text-anchor="end">50</text>
<line x1="298.10" y1="417.93" x2="301.50" y2="417.93" stroke="#111" stroke-width="1.1"/>
<text transform="translate(294.70 420.70) scale(1 1.1)" font-size="7.0" text-anchor="end">25</text>
<line x1="298.10" y1="437.50" x2="301.50" y2="437.50" stroke="#111" stroke-width="1.1"/>
<text transform="translate(294.70 440.27) scale(1 1.1)" font-size="7.0" text-anchor="end">0</text>
<line x1="301.50" y1="437.50" x2="381.30" y2="437.50" stroke="#111" stroke-width="1.1"/>
<line x1="301.50" y1="437.50" x2="301.50" y2="440.80" stroke="#111" stroke-width="1.1"/>
<text transform="translate(301.50 448.80) scale(1 1.1)" font-size="7.0" text-anchor="middle">0</text>
<line x1="321.45" y1="437.50" x2="321.45" y2="440.80" stroke="#111" stroke-width="1.1"/>
<text transform="translate(321.45 448.80) scale(1 1.1)" font-size="7.0" text-anchor="middle">200</text>
<line x1="341.40" y1="437.50" x2="341.40" y2="440.80" stroke="#111" stroke-width="1.1"/>
<text transform="translate(341.40 448.80) scale(1 1.1)" font-size="7.0" text-anchor="middle">400</text>
<line x1="361.35" y1="437.50" x2="361.35" y2="440.80" stroke="#111" stroke-width="1.1"/>
<text transform="translate(361.35 448.80) scale(1 1.1)" font-size="7.0" text-anchor="middle">600</text>
<line x1="381.30" y1="437.50" x2="381.30" y2="440.80" stroke="#111" stroke-width="1.1"/>
<text transform="translate(381.30 448.80) scale(1 1.1)" font-size="7.0" text-anchor="middle">800</text>
<text transform="translate(339.00 457.80) scale(1 1.1)" font-size="7.4" text-anchor="middle">Days</text>
<text transform="translate(280.30 398.00) rotate(-90) scale(1 1.1)" font-size="7.4" text-anchor="middle">Event-free survival (%)</text>
<path d="M301.50,359.20 H302.00 V364.00 H303.00 V368.30 H311.00 V374.40 H320.40 V379.80 H322.50 V387.10 H333.60 V404.40 H366.00 V420.80 H370.80" fill="none" stroke="#e2402c" stroke-width="1.25" stroke-linejoin="miter"/>
<line x1="306.00" y1="367.00" x2="306.00" y2="369.60" stroke="#111" stroke-width="0.8"/>
<line x1="308.30" y1="367.00" x2="308.30" y2="369.60" stroke="#111" stroke-width="0.8"/>
<line x1="320.00" y1="376.20" x2="320.00" y2="378.80" stroke="#111" stroke-width="0.8"/>
<line x1="327.00" y1="385.80" x2="327.00" y2="388.40" stroke="#111" stroke-width="0.8"/>
<line x1="329.50" y1="385.80" x2="329.50" y2="388.40" stroke="#111" stroke-width="0.8"/>
<line x1="370.50" y1="419.50" x2="370.50" y2="422.10" stroke="#111" stroke-width="0.8"/>
<path d="M301.50,359.20 H302.30 V364.00 H303.20 V369.20 H304.40 V374.00 H305.30 V379.80 H306.80 V384.60 H309.20 V389.40 H310.80 V394.20 H312.00 V398.00 H313.00 V402.00 H314.60 V406.70 H317.00 V411.20 H319.20 V417.30 H337.70 V437.50" fill="none" stroke="#2f56a6" stroke-width="1.25" stroke-linejoin="miter"/>
<line x1="317.80" y1="409.90" x2="317.80" y2="412.50" stroke="#111" stroke-width="0.8"/>
<line x1="324.00" y1="416.00" x2="324.00" y2="418.60" stroke="#111" stroke-width="0.8"/>
<line x1="337.70" y1="356.90" x2="347.00" y2="356.90" stroke="#e2402c" stroke-width="1.25"/>
<line x1="342.35" y1="355.60" x2="342.35" y2="358.20" stroke="#111" stroke-width="0.8"/>
<text transform="translate(348.80 359.60) scale(1 1.1)" font-size="7.4">&lt;Median</text>
<line x1="337.70" y1="368.90" x2="347.00" y2="368.90" stroke="#2f56a6" stroke-width="1.25"/>
<line x1="342.35" y1="367.60" x2="342.35" y2="370.20" stroke="#111" stroke-width="0.8"/>
<text transform="translate(348.80 371.60) scale(1 1.1)" font-size="7.4">&gt;Median</text>
<text transform="translate(345.80 389.20) scale(1 1.1)" font-size="7.4"><tspan font-style="italic">P</tspan><tspan font-size="6.3"> = </tspan>0.01</text>
<text transform="translate(466.90 343.80) scale(1 1.1)" font-size="7.4" text-anchor="middle">BCL-xL z-score (LSC-like)</text>
<line x1="426.50" y1="351.20" x2="426.50" y2="438.00" stroke="#111" stroke-width="1.1"/>
<line x1="423.10" y1="359.60" x2="426.50" y2="359.60" stroke="#111" stroke-width="1.1"/>
<text transform="translate(419.70 362.37) scale(1 1.1)" font-size="7.0" text-anchor="end">100</text>
<line x1="423.10" y1="379.20" x2="426.50" y2="379.20" stroke="#111" stroke-width="1.1"/>
<text transform="translate(419.70 381.97) scale(1 1.1)" font-size="7.0" text-anchor="end">75</text>
<line x1="423.10" y1="398.80" x2="426.50" y2="398.80" stroke="#111" stroke-width="1.1"/>
<text transform="translate(419.70 401.57) scale(1 1.1)" font-size="7.0" text-anchor="end">50</text>
<line x1="423.10" y1="418.40" x2="426.50" y2="418.40" stroke="#111" stroke-width="1.1"/>
<text transform="translate(419.70 421.17) scale(1 1.1)" font-size="7.0" text-anchor="end">25</text>
<line x1="423.10" y1="438.00" x2="426.50" y2="438.00" stroke="#111" stroke-width="1.1"/>
<text transform="translate(419.70 440.77) scale(1 1.1)" font-size="7.0" text-anchor="end">0</text>
<line x1="426.50" y1="438.00" x2="506.30" y2="438.00" stroke="#111" stroke-width="1.1"/>
<line x1="426.50" y1="438.00" x2="426.50" y2="441.30" stroke="#111" stroke-width="1.1"/>
<text transform="translate(426.50 448.80) scale(1 1.1)" font-size="7.0" text-anchor="middle">0</text>
<line x1="446.45" y1="438.00" x2="446.45" y2="441.30" stroke="#111" stroke-width="1.1"/>
<text transform="translate(446.45 448.80) scale(1 1.1)" font-size="7.0" text-anchor="middle">200</text>
<line x1="466.40" y1="438.00" x2="466.40" y2="441.30" stroke="#111" stroke-width="1.1"/>
<text transform="translate(466.40 448.80) scale(1 1.1)" font-size="7.0" text-anchor="middle">400</text>
<line x1="486.35" y1="438.00" x2="486.35" y2="441.30" stroke="#111" stroke-width="1.1"/>
<text transform="translate(486.35 448.80) scale(1 1.1)" font-size="7.0" text-anchor="middle">600</text>
<line x1="506.30" y1="438.00" x2="506.30" y2="441.30" stroke="#111" stroke-width="1.1"/>
<text transform="translate(506.30 448.80) scale(1 1.1)" font-size="7.0" text-anchor="middle">800</text>
<text transform="translate(463.50 457.80) scale(1 1.1)" font-size="7.4" text-anchor="middle">Days</text>
<text transform="translate(404.30 398.00) rotate(-90) scale(1 1.1)" font-size="7.4" text-anchor="middle">Event-free survival (%)</text>
<path d="M426.50,359.60 V365.00 H427.50 V369.00 H428.50 V372.00 H430.10 V375.50 H433.30 V380.00 H434.50 V385.00 H435.80 V391.30 H437.90 V399.80 H439.60 V404.00 H442.20 V407.20 H444.90 V411.40 H448.10 V421.00 H495.70" fill="none" stroke="#2f56a6" stroke-width="1.25" stroke-linejoin="miter"/>
<line x1="440.50" y1="402.70" x2="440.50" y2="405.30" stroke="#111" stroke-width="0.8"/>
<line x1="446.00" y1="410.10" x2="446.00" y2="412.70" stroke="#111" stroke-width="0.8"/>
<line x1="454.00" y1="419.70" x2="454.00" y2="422.30" stroke="#111" stroke-width="0.8"/>
<line x1="495.50" y1="419.70" x2="495.50" y2="422.30" stroke="#111" stroke-width="0.8"/>
<path d="M426.50,359.60 H430.10 V363.00 H431.60 V369.10 H435.40 V380.80 H444.30 V386.70 H458.70 V403.60 H462.90 V421.00 H490.80 V438.00" fill="none" stroke="#e2402c" stroke-width="1.25" stroke-linejoin="miter"/>
<line x1="428.50" y1="358.30" x2="428.50" y2="360.90" stroke="#111" stroke-width="0.8"/>
<line x1="433.50" y1="367.80" x2="433.50" y2="370.40" stroke="#111" stroke-width="0.8"/>
<line x1="448.00" y1="385.40" x2="448.00" y2="388.00" stroke="#111" stroke-width="0.8"/>
<line x1="451.50" y1="385.40" x2="451.50" y2="388.00" stroke="#111" stroke-width="0.8"/>
<line x1="454.00" y1="385.40" x2="454.00" y2="388.00" stroke="#111" stroke-width="0.8"/>
<line x1="462.90" y1="357.10" x2="473.50" y2="357.10" stroke="#e2402c" stroke-width="1.25"/>
<line x1="468.20" y1="355.80" x2="468.20" y2="358.40" stroke="#111" stroke-width="0.8"/>
<text transform="translate(475.60 359.80) scale(1 1.1)" font-size="7.4">&lt;Median</text>
<line x1="462.90" y1="369.10" x2="473.50" y2="369.10" stroke="#2f56a6" stroke-width="1.25"/>
<line x1="468.20" y1="367.80" x2="468.20" y2="370.40" stroke="#111" stroke-width="0.8"/>
<text transform="translate(475.60 371.80) scale(1 1.1)" font-size="7.4">&gt;Median</text>
<text transform="translate(468.80 390.30) scale(1 1.1)" font-size="7.4"><tspan font-style="italic">P</tspan><tspan font-size="6.3"> = </tspan>0.1</text>
<text transform="translate(0.50 488.80)" font-size="10.2" font-weight="bold" fill="#000">H</text>
<g transform="translate(42.05,512.40) scale(0.95)">
<circle cx="0" cy="0" r="4.25" fill="#5b55a3"/>
<path d="M-8.4,19.8 L-8.4,8.2 Q-8.4,5.4 -5.6,5.4 L3.6,5.4 Q5.6,5.4 6.6,6.9 L12.7,14.3 Q13.1,15.6 11.9,16.1 L11.1,16.0 L4.8,9.4 L4.8,20.6 L-4.4,20.6 L-4.4,11.5 L-5.3,11.5 L-5.3,19.8 Q-5.3,20.5 -6.0,20.5 L-7.7,20.5 Q-8.4,20.5 -8.4,19.8 Z" fill="#5b55a3"/>
<path d="M-5.3,19.5 L-1.1,19.5 L-1.1,36.6 Q-1.1,37.4 -1.9,37.4 L-4.5,37.4 Q-5.3,37.4 -5.3,36.6 Z" fill="#5b55a3"/>
<path d="M0.4,19.5 L4.6,19.5 L4.6,36.6 Q4.6,37.4 3.8,37.4 L1.2,37.4 Q0.4,37.4 0.4,36.6 Z" fill="#5b55a3"/>
</g>
<line x1="55.30" y1="503.70" x2="55.30" y2="546.40" stroke="#1d1b3d" stroke-width="1.6"/>
<g transform="translate(55.30,503.70) scale(0.95)">
<path d="M0,4.8 H6.4" fill="none" stroke="#1d1b3d" stroke-width="1.0"/>
<rect x="5.35" y="4.1" width="2.1" height="3.6" fill="#1d1b3d"/>
<rect x="3.0" y="8.3" width="6.4" height="7.3" rx="1.0" fill="#fff" stroke="#1d1b3d" stroke-width="1.45"/>
<rect x="2.6" y="7.6" width="7.2" height="1.6" fill="#1d1b3d"/>
</g>
<line x1="50.27" y1="546.40" x2="60.43" y2="546.40" stroke="#1d1b3d" stroke-width="1.3"/>
<circle cx="50.27" cy="546.40" r="1.55" fill="#fff" stroke="#1d1b3d" stroke-width="1.35"/>
<circle cx="60.43" cy="546.40" r="1.55" fill="#fff" stroke="#1d1b3d" stroke-width="1.35"/>
<line x1="67.10" y1="537.10" x2="80.20" y2="537.10" stroke="#222" stroke-width="1.1"/>
<path d="M82.70,537.10 L79.50,535.40 L79.50,538.80 Z" fill="#111"/>
<g transform="translate(107.70,533.70) scale(0.95)" filter="url(#bl)">
<ellipse cx="0.5" cy="0" rx="10.5" ry="12" fill="#fdeccb"/>
<circle cx="2.4" cy="-11.4" r="3.7" fill="#fce2b0" stroke="#f9d69c" stroke-width="0.8"/>
<circle cx="-3.7" cy="10.5" r="3.7" fill="#fce2b0" stroke="#f9d69c" stroke-width="0.8"/>
<circle cx="-6.0" cy="-4.1" r="4.7" fill="#fad49a"/>
<circle cx="1.0" cy="-5.6" r="4.7" fill="#fad49a"/>
<circle cx="7.8" cy="-1.2" r="4.7" fill="#fad49a"/>
<circle cx="-0.9" cy="0.7" r="4.7" fill="#fad49a"/>
<circle cx="-7.4" cy="3.1" r="4.7" fill="#fad49a"/>
<circle cx="4.4" cy="7.2" r="4.7" fill="#fad49a"/>
<circle cx="-6.0" cy="-4.1" r="3.5" fill="#f4ad5c"/>
<circle cx="-6.0" cy="-4.1" r="2.1" fill="#f3b266" stroke="#ea9540" stroke-width="0.8"/>
<circle cx="1.0" cy="-5.6" r="3.5" fill="#f4ad5c"/>
<circle cx="1.0" cy="-5.6" r="2.1" fill="#f3b266" stroke="#ea9540" stroke-width="0.8"/>
<circle cx="7.8" cy="-1.2" r="3.5" fill="#f4ad5c"/>
<circle cx="7.8" cy="-1.2" r="2.1" fill="#f3b266" stroke="#ea9540" stroke-width="0.8"/>
<circle cx="-0.9" cy="0.7" r="3.5" fill="#f4ad5c"/>
<circle cx="-0.9" cy="0.7" r="2.1" fill="#f3b266" stroke="#ea9540" stroke-width="0.8"/>
<circle cx="-7.4" cy="3.1" r="3.5" fill="#f4ad5c"/>
<circle cx="-7.4" cy="3.1" r="2.1" fill="#f3b266" stroke="#ea9540" stroke-width="0.8"/>
<circle cx="4.4" cy="7.2" r="3.5" fill="#f4ad5c"/>
<circle cx="4.4" cy="7.2" r="2.1" fill="#f3b266" stroke="#ea9540" stroke-width="0.8"/>
</g>
<line x1="133.80" y1="537.50" x2="147.00" y2="537.50" stroke="#222" stroke-width="1.1"/>
<path d="M149.50,537.50 L146.30,535.80 L146.30,539.20 Z" fill="#111"/>
<g transform="translate(162.40,518.50) scale(0.9367,0.9286)" filter="url(#bl2)">
<rect x="0" y="0" width="30" height="28" rx="1.2" fill="#342d88"/>
<rect x="0" y="0" width="5.6" height="28" fill="#211b5c"/>
<rect x="9.8" y="0.3" width="18.4" height="3.2" fill="#e6e2c2"/>
<path d="M28.2,0 H29 Q30,0 30,1.5 V4 H28.2 Z" fill="#1e1a50"/>
<rect x="5.6" y="3.6" width="24.4" height="0.8" fill="#2c2670"/>
<rect x="5.6" y="18" width="9.2" height="10" fill="#d6d2bf"/>
<rect x="9.2" y="18.3" width="2.8" height="3.6" fill="#1c1838"/>
<rect x="8.8" y="21.4" width="4.5" height="1.6" fill="#5a5670"/>
<rect x="9.2" y="24.5" width="4.6" height="3.5" fill="#1c1838"/>
<ellipse cx="22.8" cy="24.7" rx="3.1" ry="1.0" fill="#c9c6dc"/>
<rect x="18" y="9.8" width="4" height="1" fill="#8f8ac8" opacity="0.8"/>
<rect x="16" y="14" width="10" height="0.6" fill="#5a54aa" opacity="0.7"/>
<rect x="16" y="19" width="10" height="0.6" fill="#5a54aa" opacity="0.7"/>
</g>
<text transform="translate(41.50 562.00) scale(1 1.1)" font-size="7.9" text-anchor="middle">Young, fit R/R patients</text>
<text transform="translate(41.80 571.50) scale(1 1.1)" font-size="7.9" text-anchor="middle">Salvage 5-AZA/VEN</text>
<text transform="translate(42.30 581.20) scale(1 1.1)" font-size="7.9" text-anchor="middle">Cohort 4 (<tspan font-style="italic">n</tspan> = 23)</text>
<text transform="translate(107.70 561.90) scale(1 1.1)" font-size="7.9" text-anchor="middle">Isolate</text>
<text transform="translate(107.70 571.30) scale(1 1.1)" font-size="7.9" text-anchor="middle">AML cells</text>
<text transform="translate(180.00 561.90) scale(1 1.1)" font-size="7.9" text-anchor="middle">BCL2 family proteins</text>
<text transform="translate(180.00 571.30) scale(1 1.1)" font-size="7.9" text-anchor="middle">in LSC-like</text>
<text transform="translate(248.20 488.80)" font-size="10.2" font-weight="bold" fill="#000">I</text>
<text transform="translate(312.30 494.70) scale(1 1.1)" font-size="7.9" text-anchor="middle">Cohort 4</text>
<text transform="translate(312.70 504.20) scale(1 1.1)" font-size="7.9" text-anchor="middle">R/R patients</text>
<line x1="283.70" y1="511.10" x2="283.70" y2="595.40" stroke="#111" stroke-width="1.1"/>
<line x1="280.20" y1="511.10" x2="283.70" y2="511.10" stroke="#111" stroke-width="1.1"/>
<text transform="translate(279.00 513.94) scale(1 1.1)" font-size="7.9" text-anchor="end">1.2</text>
<line x1="280.20" y1="539.20" x2="283.70" y2="539.20" stroke="#111" stroke-width="1.1"/>
<text transform="translate(279.00 542.04) scale(1 1.1)" font-size="7.9" text-anchor="end">0.8</text>
<line x1="280.20" y1="567.30" x2="283.70" y2="567.30" stroke="#111" stroke-width="1.1"/>
<text transform="translate(279.00 570.14) scale(1 1.1)" font-size="7.9" text-anchor="end">0.4</text>
<line x1="280.20" y1="595.40" x2="283.70" y2="595.40" stroke="#111" stroke-width="1.1"/>
<text transform="translate(279.00 598.24) scale(1 1.1)" font-size="7.9" text-anchor="end">0.0</text>
<line x1="283.70" y1="595.40" x2="340.00" y2="595.40" stroke="#111" stroke-width="1.1"/>
<line x1="300.50" y1="595.40" x2="300.50" y2="598.90" stroke="#111" stroke-width="1.1"/>
<text transform="translate(300.50 607.50) scale(1 1.1)" font-size="7.9" text-anchor="middle">Yes</text>
<line x1="324.70" y1="595.40" x2="324.70" y2="598.90" stroke="#111" stroke-width="1.1"/>
<text transform="translate(324.70 607.50) scale(1 1.1)" font-size="7.9" text-anchor="middle">No</text>
<text transform="translate(312.00 616.10) scale(1 1.1)" font-size="7.9" text-anchor="middle">5-AZA/VEN</text>
<text transform="translate(312.00 625.10) scale(1 1.1)" font-size="7.9" text-anchor="middle">responder</text>
<text transform="translate(264.80 553.20) rotate(-90) scale(1 1.1)" font-size="7.9" text-anchor="middle">MAC-Score</text>
<text transform="translate(296.40 515.50) scale(1 1.1)" font-size="7.9"><tspan font-style="italic">P</tspan><tspan font-size="6.3"> = </tspan>0.005</text>
<line x1="300.20" y1="517.40" x2="325.30" y2="517.40" stroke="#111" stroke-width="1.1"/>
<circle cx="303.30" cy="521.50" r="2.3" fill="#000"/>
<circle cx="297.60" cy="525.80" r="2.3" fill="#000"/>
<circle cx="300.20" cy="532.80" r="2.3" fill="#000"/>
<circle cx="300.50" cy="541.70" r="2.3" fill="#000"/>
<circle cx="294.60" cy="545.20" r="2.3" fill="#000"/>
<circle cx="300.50" cy="546.60" r="2.3" fill="#000"/>
<circle cx="300.50" cy="552.50" r="2.3" fill="#000"/>
<circle cx="294.60" cy="557.30" r="2.3" fill="#000"/>
<circle cx="300.50" cy="558.20" r="2.3" fill="#000"/>
<circle cx="294.60" cy="562.10" r="2.3" fill="#000"/>
<circle cx="306.20" cy="561.60" r="2.3" fill="#000"/>
<circle cx="297.60" cy="567.70" r="2.3" fill="#000"/>
<circle cx="303.30" cy="567.70" r="2.3" fill="#000"/>
<circle cx="303.30" cy="577.20" r="2.3" fill="#000"/>
<circle cx="297.60" cy="580.70" r="2.3" fill="#000"/>
<line x1="292.40" y1="553.30" x2="308.50" y2="553.30" stroke="#000" stroke-width="1.1"/>
<circle cx="324.70" cy="557.80" r="2.2" fill="#ababab" stroke="#111" stroke-width="0.9"/>
<circle cx="318.90" cy="568.20" r="2.2" fill="#ababab" stroke="#111" stroke-width="0.9"/>
<circle cx="322.70" cy="568.00" r="2.2" fill="#ababab" stroke="#111" stroke-width="0.9"/>
<circle cx="326.50" cy="569.40" r="2.2" fill="#ababab" stroke="#111" stroke-width="0.9"/>
<circle cx="330.40" cy="568.20" r="2.2" fill="#ababab" stroke="#111" stroke-width="0.9"/>
<circle cx="322.70" cy="577.70" r="2.2" fill="#ababab" stroke="#111" stroke-width="0.9"/>
<circle cx="327.00" cy="577.70" r="2.2" fill="#ababab" stroke="#111" stroke-width="0.9"/>
<text transform="translate(391.40 488.80)" font-size="10.2" font-weight="bold" fill="#000">J</text>
<text transform="translate(448.50 495.60) scale(1 1.1)" font-size="7.9" text-anchor="middle">Cohort 4</text>
<text transform="translate(448.00 505.10) scale(1 1.1)" font-size="7.9" text-anchor="middle">R/R patients</text>
<line x1="406.30" y1="516.70" x2="406.30" y2="595.30" stroke="#111" stroke-width="1.1"/>
<line x1="402.90" y1="523.70" x2="406.30" y2="523.70" stroke="#111" stroke-width="1.1"/>
<text transform="translate(399.50 526.79) scale(1 1.1)" font-size="7.8" text-anchor="end">100</text>
<line x1="402.90" y1="541.60" x2="406.30" y2="541.60" stroke="#111" stroke-width="1.1"/>
<text transform="translate(399.50 544.69) scale(1 1.1)" font-size="7.8" text-anchor="end">75</text>
<line x1="402.90" y1="559.50" x2="406.30" y2="559.50" stroke="#111" stroke-width="1.1"/>
<text transform="translate(399.50 562.59) scale(1 1.1)" font-size="7.8" text-anchor="end">50</text>
<line x1="402.90" y1="577.40" x2="406.30" y2="577.40" stroke="#111" stroke-width="1.1"/>
<text transform="translate(399.50 580.49) scale(1 1.1)" font-size="7.8" text-anchor="end">25</text>
<line x1="402.90" y1="595.30" x2="406.30" y2="595.30" stroke="#111" stroke-width="1.1"/>
<text transform="translate(399.50 598.39) scale(1 1.1)" font-size="7.8" text-anchor="end">0</text>
<line x1="406.30" y1="595.30" x2="490.50" y2="595.30" stroke="#111" stroke-width="1.1"/>
<line x1="406.30" y1="595.30" x2="406.30" y2="598.60" stroke="#111" stroke-width="1.1"/>
<text transform="translate(406.30 606.40) scale(1 1.1)" font-size="7.8" text-anchor="middle">0</text>
<line x1="427.35" y1="595.30" x2="427.35" y2="598.60" stroke="#111" stroke-width="1.1"/>
<text transform="translate(427.35 606.40) scale(1 1.1)" font-size="7.8" text-anchor="middle">200</text>
<line x1="448.40" y1="595.30" x2="448.40" y2="598.60" stroke="#111" stroke-width="1.1"/>
<text transform="translate(448.40 606.40) scale(1 1.1)" font-size="7.8" text-anchor="middle">400</text>
<line x1="469.45" y1="595.30" x2="469.45" y2="598.60" stroke="#111" stroke-width="1.1"/>
<text transform="translate(469.45 606.40) scale(1 1.1)" font-size="7.8" text-anchor="middle">600</text>
<line x1="490.50" y1="595.30" x2="490.50" y2="598.60" stroke="#111" stroke-width="1.1"/>
<text transform="translate(490.50 606.40) scale(1 1.1)" font-size="7.8" text-anchor="middle">800</text>
<text transform="translate(448.70 614.60) scale(1 1.1)" font-size="7.9" text-anchor="middle">Days</text>
<text transform="translate(382.80 556.60) rotate(-90) scale(1 1.1)" font-size="7.9" text-anchor="middle">Event-free survival (%)</text>
<path d="M406.30,523.70 H410.70 V529.00 H416.30 V534.80 H420.80 V542.50 H428.80 V550.20 H436.50 V558.80 H461.20 V571.00 H485.60" fill="none" stroke="#2f56a6" stroke-width="1.25" stroke-linejoin="miter"/>
<line x1="419.00" y1="533.50" x2="419.00" y2="536.10" stroke="#111" stroke-width="0.8"/>
<line x1="432.00" y1="548.90" x2="432.00" y2="551.50" stroke="#111" stroke-width="0.8"/>
<line x1="460.00" y1="557.50" x2="460.00" y2="560.10" stroke="#111" stroke-width="0.8"/>
<line x1="467.00" y1="569.70" x2="467.00" y2="572.30" stroke="#111" stroke-width="0.8"/>
<line x1="485.30" y1="569.70" x2="485.30" y2="572.30" stroke="#111" stroke-width="0.8"/>
<path d="M406.30,523.70 H407.00 V530.00 H408.00 V538.70 H408.70 V545.40 H409.60 V552.10 H415.40 V559.80 H416.90 V566.50 H418.30 V573.70 H428.50 V580.60 H463.10" fill="none" stroke="#e2452c" stroke-width="1.25" stroke-linejoin="miter"/>
<line x1="449.00" y1="579.30" x2="449.00" y2="581.90" stroke="#111" stroke-width="0.8"/>
<line x1="462.80" y1="579.30" x2="462.80" y2="581.90" stroke="#111" stroke-width="0.8"/>
<line x1="445.20" y1="523.30" x2="453.80" y2="523.30" stroke="#e2452c" stroke-width="1.25"/>
<line x1="449.50" y1="522.00" x2="449.50" y2="524.60" stroke="#111" stroke-width="0.8"/>
<text transform="translate(456.70 526.00) scale(1 1.1)" font-size="7.9">&lt;0.4 (<tspan font-style="italic">N</tspan> = 10)</text>
<line x1="445.20" y1="534.20" x2="453.80" y2="534.20" stroke="#2f56a6" stroke-width="1.25"/>
<line x1="449.50" y1="532.90" x2="449.50" y2="535.50" stroke="#111" stroke-width="0.8"/>
<text transform="translate(456.70 536.90) scale(1 1.1)" font-size="7.9">&gt;0.4 (<tspan font-style="italic">N</tspan> = 13)</text>
<text transform="translate(445.80 547.30) scale(1 1.1)" font-size="7.9"><tspan font-style="italic">P</tspan><tspan font-size="6.3"> = </tspan>0.038</text>
</svg>
</body></html>
